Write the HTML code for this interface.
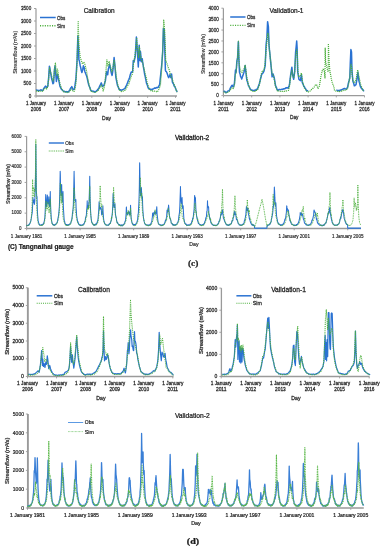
<!DOCTYPE html>
<html><head><meta charset="utf-8"><title>Streamflow</title>
<style>html,body{margin:0;padding:0;background:#fff;}body{width:386px;height:550px;overflow:hidden;}svg{display:block;}</style>
</head><body>
<svg width="386" height="550" viewBox="0 0 386 550">
<rect width="386" height="550" fill="#ffffff"/>
<line x1="36" y1="96" x2="36" y2="8.4" stroke="#9a9a9a" stroke-width="1.2" />
<line x1="34" y1="96" x2="36" y2="96" stroke="#9a9a9a" stroke-width="0.9" />
<text x="31.2" y="97.79" font-size="5.8" text-anchor="end" font-family="'Liberation Sans', Arial, sans-serif" fill="#2a2a2a" stroke="#2a2a2a" stroke-width="0.26" textLength="2.55" lengthAdjust="spacingAndGlyphs" >0</text>
<line x1="34" y1="83.5" x2="36" y2="83.5" stroke="#9a9a9a" stroke-width="0.9" />
<text x="31.2" y="85.29" font-size="5.8" text-anchor="end" font-family="'Liberation Sans', Arial, sans-serif" fill="#2a2a2a" stroke="#2a2a2a" stroke-width="0.26" textLength="7.65" lengthAdjust="spacingAndGlyphs" >500</text>
<line x1="34" y1="71" x2="36" y2="71" stroke="#9a9a9a" stroke-width="0.9" />
<text x="31.2" y="72.79" font-size="5.8" text-anchor="end" font-family="'Liberation Sans', Arial, sans-serif" fill="#2a2a2a" stroke="#2a2a2a" stroke-width="0.26" textLength="10.2" lengthAdjust="spacingAndGlyphs" >1000</text>
<line x1="34" y1="58.5" x2="36" y2="58.5" stroke="#9a9a9a" stroke-width="0.9" />
<text x="31.2" y="60.29" font-size="5.8" text-anchor="end" font-family="'Liberation Sans', Arial, sans-serif" fill="#2a2a2a" stroke="#2a2a2a" stroke-width="0.26" textLength="10.2" lengthAdjust="spacingAndGlyphs" >1500</text>
<line x1="34" y1="46" x2="36" y2="46" stroke="#9a9a9a" stroke-width="0.9" />
<text x="31.2" y="47.79" font-size="5.8" text-anchor="end" font-family="'Liberation Sans', Arial, sans-serif" fill="#2a2a2a" stroke="#2a2a2a" stroke-width="0.26" textLength="10.2" lengthAdjust="spacingAndGlyphs" >2000</text>
<line x1="34" y1="33.5" x2="36" y2="33.5" stroke="#9a9a9a" stroke-width="0.9" />
<text x="31.2" y="35.29" font-size="5.8" text-anchor="end" font-family="'Liberation Sans', Arial, sans-serif" fill="#2a2a2a" stroke="#2a2a2a" stroke-width="0.26" textLength="10.2" lengthAdjust="spacingAndGlyphs" >2500</text>
<line x1="34" y1="21" x2="36" y2="21" stroke="#9a9a9a" stroke-width="0.9" />
<text x="31.2" y="22.79" font-size="5.8" text-anchor="end" font-family="'Liberation Sans', Arial, sans-serif" fill="#2a2a2a" stroke="#2a2a2a" stroke-width="0.26" textLength="10.2" lengthAdjust="spacingAndGlyphs" >3000</text>
<line x1="34" y1="8.5" x2="36" y2="8.5" stroke="#9a9a9a" stroke-width="0.9" />
<text x="31.2" y="10.29" font-size="5.8" text-anchor="end" font-family="'Liberation Sans', Arial, sans-serif" fill="#2a2a2a" stroke="#2a2a2a" stroke-width="0.26" textLength="10.2" lengthAdjust="spacingAndGlyphs" >3500</text>
<line x1="36" y1="96" x2="177" y2="96" stroke="#9a9a9a" stroke-width="1.3" />
<line x1="36" y1="96" x2="36" y2="97.8" stroke="#9a9a9a" stroke-width="0.9" />
<line x1="63.9" y1="96" x2="63.9" y2="97.8" stroke="#9a9a9a" stroke-width="0.9" />
<line x1="91.8" y1="96" x2="91.8" y2="97.8" stroke="#9a9a9a" stroke-width="0.9" />
<line x1="119.7" y1="96" x2="119.7" y2="97.8" stroke="#9a9a9a" stroke-width="0.9" />
<line x1="147.6" y1="96" x2="147.6" y2="97.8" stroke="#9a9a9a" stroke-width="0.9" />
<line x1="175.5" y1="96" x2="175.5" y2="97.8" stroke="#9a9a9a" stroke-width="0.9" />
<text x="36" y="104.8" font-size="5.6" text-anchor="middle" font-family="'Liberation Sans', Arial, sans-serif" fill="#2a2a2a" stroke="#2a2a2a" stroke-width="0.26" textLength="20" lengthAdjust="spacingAndGlyphs" >1 January</text>
<text x="36" y="111.3" font-size="5.6" text-anchor="middle" font-family="'Liberation Sans', Arial, sans-serif" fill="#2a2a2a" stroke="#2a2a2a" stroke-width="0.26" textLength="10.4" lengthAdjust="spacingAndGlyphs" >2006</text>
<text x="63.9" y="104.8" font-size="5.6" text-anchor="middle" font-family="'Liberation Sans', Arial, sans-serif" fill="#2a2a2a" stroke="#2a2a2a" stroke-width="0.26" textLength="20" lengthAdjust="spacingAndGlyphs" >1 January</text>
<text x="63.9" y="111.3" font-size="5.6" text-anchor="middle" font-family="'Liberation Sans', Arial, sans-serif" fill="#2a2a2a" stroke="#2a2a2a" stroke-width="0.26" textLength="10.4" lengthAdjust="spacingAndGlyphs" >2007</text>
<text x="91.8" y="104.8" font-size="5.6" text-anchor="middle" font-family="'Liberation Sans', Arial, sans-serif" fill="#2a2a2a" stroke="#2a2a2a" stroke-width="0.26" textLength="20" lengthAdjust="spacingAndGlyphs" >1 January</text>
<text x="91.8" y="111.3" font-size="5.6" text-anchor="middle" font-family="'Liberation Sans', Arial, sans-serif" fill="#2a2a2a" stroke="#2a2a2a" stroke-width="0.26" textLength="10.4" lengthAdjust="spacingAndGlyphs" >2008</text>
<text x="119.7" y="104.8" font-size="5.6" text-anchor="middle" font-family="'Liberation Sans', Arial, sans-serif" fill="#2a2a2a" stroke="#2a2a2a" stroke-width="0.26" textLength="20" lengthAdjust="spacingAndGlyphs" >1 January</text>
<text x="119.7" y="111.3" font-size="5.6" text-anchor="middle" font-family="'Liberation Sans', Arial, sans-serif" fill="#2a2a2a" stroke="#2a2a2a" stroke-width="0.26" textLength="10.4" lengthAdjust="spacingAndGlyphs" >2009</text>
<text x="147.6" y="104.8" font-size="5.6" text-anchor="middle" font-family="'Liberation Sans', Arial, sans-serif" fill="#2a2a2a" stroke="#2a2a2a" stroke-width="0.26" textLength="20" lengthAdjust="spacingAndGlyphs" >1 January</text>
<text x="147.6" y="111.3" font-size="5.6" text-anchor="middle" font-family="'Liberation Sans', Arial, sans-serif" fill="#2a2a2a" stroke="#2a2a2a" stroke-width="0.26" textLength="10.4" lengthAdjust="spacingAndGlyphs" >2010</text>
<text x="175.5" y="104.8" font-size="5.6" text-anchor="middle" font-family="'Liberation Sans', Arial, sans-serif" fill="#2a2a2a" stroke="#2a2a2a" stroke-width="0.26" textLength="20" lengthAdjust="spacingAndGlyphs" >1 January</text>
<text x="175.5" y="111.3" font-size="5.6" text-anchor="middle" font-family="'Liberation Sans', Arial, sans-serif" fill="#2a2a2a" stroke="#2a2a2a" stroke-width="0.26" textLength="10.4" lengthAdjust="spacingAndGlyphs" >2011</text>
<text x="106.5" y="119.9" font-size="5.9" text-anchor="middle" font-family="'Liberation Sans', Arial, sans-serif" fill="#2a2a2a" stroke="#2a2a2a" stroke-width="0.26" textLength="9" lengthAdjust="spacingAndGlyphs" >Day</text>
<text x="99.2" y="12.8" font-size="7" text-anchor="middle" font-family="'Liberation Sans', Arial, sans-serif" fill="#1a1a1a" stroke="#1a1a1a" stroke-width="0.24" textLength="31" lengthAdjust="spacingAndGlyphs" >Calibration</text>
<text x="15.3" y="52.2" font-size="5.6" text-anchor="middle" font-family="'Liberation Sans', Arial, sans-serif" fill="#2a2a2a" stroke="#2a2a2a" stroke-width="0.14" textLength="43.2" lengthAdjust="spacingAndGlyphs" transform="rotate(-90 15.3 52.2)" dy="2">Streamflow (m³/s)</text>
<polyline points="36,90 36.41,89.9 36.83,90.38 37.24,90.44 37.66,90.27 38.07,90.5 38.49,90.57 38.9,90.7 39.4,90.55 39.9,90.39 40.4,90 40.88,89.86 41.36,89.91 41.84,90.42 42.32,90.28 42.8,90.4 43.3,89.61 43.8,88.24 44.3,87.6 44.7,87.06 45.1,86.75 45.5,86.1 45.9,86.42 46.3,87.39 46.7,87.6 47.25,87.12 47.8,86.1 48.2,81.8 48.6,78.3 49.4,66.3 49.8,67.78 50.2,70.5 50.75,73.7 51.3,76.8 51.7,78.96 52.1,80.14 52.5,81.73 52.9,83.7 53.6,83 54.4,70.5 55,65.9 55.8,74.4 56.4,81.4 57.1,75.2 57.7,74.4 58.3,78.3 58.7,80.18 59.1,81.8 59.5,83.93 59.9,86.1 60.4,87.09 60.9,88.16 61.4,89.2 61.86,89.51 62.32,89.98 62.78,90.43 63.24,91.02 63.7,91.5 64.14,91.44 64.57,91.34 65.01,91.77 65.45,91.67 65.88,91.75 66.32,91.57 66.75,91.99 67.19,91.96 67.63,91.65 68.06,91.79 68.5,91.9 68.94,91.25 69.38,90.49 69.82,89.86 70.26,88.81 70.7,88.1 71.25,87.56 71.8,86.6 72.2,87.71 72.6,88.48 73,89.6 73.47,89.42 73.93,89.35 74.4,88.9 74.9,85.91 75.4,82.44 75.9,79.2 76.5,69.62 77.1,59.8 77.5,47.24 77.9,35.9 78.5,47.8 78.9,59.8 79.4,61 80.1,65.2 80.65,67.37 81.2,70.2 81.9,72.5 82.7,69.7 83.4,65.7 84.1,67.2 84.5,69.84 84.9,71.7 85.5,73.1 86.1,74.7 86.6,75.84 87.1,77.7 87.6,79.98 88.1,82.34 88.6,84.4 89.06,85.72 89.52,86.72 89.98,87.96 90.44,89.2 90.9,90.4 91.43,90.81 91.97,90.94 92.5,91.2 92.92,91.26 93.33,91.43 93.75,91.33 94.17,91.45 94.58,91.88 95,91.9 95.44,91.83 95.88,91.35 96.32,90.95 96.76,90.53 97.2,90.4 97.7,89.63 98.2,89.15 98.7,88.1 99.2,87.28 99.7,86.13 100.2,85.1 100.75,84.28 101.3,82.9 101.85,84.55 102.4,86.6 102.9,86.11 103.4,85.92 103.9,85.1 104.4,83.7 104.9,82.13 105.4,80.7 106,75.95 106.6,71.7 107.15,73.26 107.7,74.7 108.4,68.7 109,67.09 109.6,64.3 110.15,66.61 110.7,70.2 111.17,72.29 111.63,74.05 112.1,75.4 112.65,71.8 113.2,67.2 113.65,62.66 114.1,57.5 114.8,64.3 115.35,71.4 115.9,77.7 116.4,80.18 116.9,82.68 117.4,85.1 117.9,86.32 118.4,87.35 118.9,88.9 119.34,89.41 119.78,89.54 120.22,89.64 120.66,90.1 121.1,90.4 121.53,90.18 121.97,89.9 122.4,89.68 122.83,89.58 123.27,89.41 123.7,89.2 124.13,88.9 124.57,88.43 125,88.5 125.42,87.34 125.84,86.3 126.27,85.59 126.69,84.82 127.11,83.79 127.53,82.82 127.96,81.86 128.38,80.36 128.8,79.6 129.23,78.68 129.67,77.25 130.1,75.34 130.53,73.97 130.97,72.68 131.4,72 132,72.32 132.6,72 133.3,60.6 134.1,61.8 134.65,58.97 135.2,56.8 135.6,49.73 136,43.83 136.4,37.1 136.85,43.55 137.3,50.4 137.8,58.09 138.3,66.9 138.75,55.66 139.2,45.3 139.6,52.99 140,60.6 140.5,51.7 140.9,56.32 141.3,61.8 141.75,59.95 142.2,58.7 142.6,61.71 143,64.11 143.4,66.9 143.83,69.24 144.27,72 144.7,74.6 145.17,76.32 145.65,78.94 146.12,81.2 146.6,83.5 147.07,84.52 147.55,85.73 148.03,87.51 148.5,88.5 148.96,88.69 149.41,88.7 149.87,89.12 150.33,89.42 150.79,89.16 151.24,89.35 151.7,89.8 152.1,89.36 152.5,89.44 152.9,88.88 153.3,88.95 153.7,88.69 154.1,88.37 154.5,88.1 154.91,87.85 155.32,88.24 155.73,88.05 156.14,87.8 156.56,87.54 156.97,87.73 157.38,87.49 157.79,87.53 158.2,87.4 158.7,86.28 159.2,85.49 159.7,84.4 160.2,79.13 160.7,74.7 161.1,70.47 161.5,67.37 161.9,62.8 162.7,52.3 163.4,28.4 164.2,29.2 164.9,52.3 165.4,70.2 165.9,71.44 166.4,71.7 167,72.97 167.6,74.7 168.15,76.59 168.7,77.7 169.1,76.5 169.5,76.19 169.9,74.7 170.4,76.47 170.9,77.7 171.6,74 172,78.01 172.4,82.2 172.9,82.97 173.4,83.75 173.9,85.1 174.4,86.36 174.9,86.8 175.4,88.1 175.85,89.23 176.3,90.25 176.75,90.99 177.2,91.9" fill="none" stroke="#2a72d2" stroke-width="1.5" stroke-linejoin="round"/>
<polyline points="36,90.8 36.58,90.92 37.16,91.11 37.74,91.43 38.32,91.34 38.9,91.5 39.4,91.34 39.9,91.21 40.4,91 41,90.89 41.6,91.11 42.2,91.21 42.8,91.2 43.3,90.62 43.8,89.51 44.3,89 44.9,88.38 45.5,88 46.1,88.25 46.7,89 47.25,87.95 47.8,86.5 48.6,80 49.1,73.98 49.6,67.5 50.4,72 50.95,72.95 51.5,75 52,77.51 52.5,79.46 53,81 53.8,78 54.6,68 55.4,63.2 56.2,72 56.8,76 57.5,69 58.2,73 59,79 59.65,82.13 60.3,85 60.8,86.58 61.3,87.79 61.8,89.5 62.35,89.92 62.9,90.86 63.45,91.31 64,92.2 64.5,92.09 65,92.15 65.5,92.09 66,92.32 66.5,92.34 67,92.55 67.5,92.44 68,92.53 68.5,92.5 69.05,91.87 69.6,91.33 70.15,90.6 70.7,90 71.25,89.38 71.8,89 72.4,90.51 73,91.5 73.7,91.49 74.4,91 74.9,88.87 75.4,86.48 75.9,84 76.5,72.77 77.1,62 77.65,41.5 78.2,21.7 78.9,44.9 79.6,52 80.4,58.3 81,59.53 81.6,61.3 82.5,64 83.4,62 83.9,62.21 84.4,63.88 84.9,64.3 85.4,66.14 85.9,68.68 86.4,70.2 86.9,73.06 87.4,76.7 87.9,79.2 88.4,81.97 88.9,83.75 89.4,86.6 89.9,87.92 90.4,89.83 90.9,91.1 91.43,91.39 91.97,91.93 92.5,92 93,92.05 93.5,92.01 94,92.36 94.5,92.52 95,92.5 95.55,92.15 96.1,91.81 96.65,91.67 97.2,91.5 97.7,91.07 98.2,90.3 98.7,89.5 99.2,88.44 99.7,87.67 100.2,87 100.7,86.09 101.2,85.42 101.7,85.1 102.2,87.29 102.7,88.91 103.2,91.1 103.85,88.59 104.5,86 105.05,80.95 105.6,76 106.25,67.5 106.9,59.8 107.4,63.2 107.9,66 108.55,63.17 109.2,61.3 109.85,64.34 110.5,67 111.15,69 111.8,72 112.4,69.9 113,68 113.55,63.53 114.1,59.8 115,66 115.6,70.7 116.2,76 116.73,79.46 117.27,82.26 117.8,85 118.33,86.53 118.87,88.57 119.4,90 119.97,90.35 120.53,90.95 121.1,91.5 121.66,91.53 122.21,91.28 122.77,90.87 123.33,91.17 123.89,90.64 124.44,90.52 125,90.5 125.54,89.72 126.09,88.54 126.63,87.59 127.17,86.5 127.71,85.57 128.26,84.99 128.8,84 129.32,82.18 129.84,80.89 130.36,79.08 130.88,77.55 131.4,76 132,75.03 132.6,73 133.5,64 134,60.98 134.5,58 135,55.1 135.5,52 136.1,45.33 136.7,37.7 137.5,48 138,52.59 138.5,58 139.4,47 139.9,50.55 140.4,55 140.95,58.03 141.5,60 142,61.41 142.5,62 143.15,64.67 143.8,68 144.37,69.8 144.93,72.7 145.5,74.6 146,77.29 146.5,78.75 147,81.68 147.5,83.5 148,85.28 148.5,86.57 149,87.95 149.5,89.5 150.05,89.66 150.6,90.01 151.15,90.86 151.7,91 152.26,90.89 152.82,91.14 153.38,90.94 153.94,91.24 154.5,91.1 155,91.28 155.5,91.27 156,91.34 156.5,91.74 157,91.56 157.5,91.9 158,90.79 158.5,89.98 159,89.18 159.5,88 160,86.28 160.5,84.4 161,77.98 161.5,72 162.05,61.54 162.6,50 163.15,34.72 163.7,20.2 164.6,30 165.2,45 165.7,61.3 166.2,61.67 166.7,63 167.2,64.3 167.9,66.43 168.6,68.7 169.1,69.63 169.6,71.29 170.1,73.2 170.6,74.55 171.1,76.28 171.6,77.7 172.18,78.84 172.75,80.57 173.32,82.53 173.9,83.7 174.45,85.53 175,86.76 175.55,88.24 176.1,89.6 176.65,90.99 177.2,92.3" fill="none" stroke="#4caf3c" stroke-width="1.2" stroke-linejoin="round" stroke-dasharray="1.1 0.9"/>
<line x1="40" y1="17.5" x2="55.7" y2="17.5" stroke="#2a72d2" stroke-width="1.5" />
<line x1="40" y1="25.75" x2="55.7" y2="25.75" stroke="#4caf3c" stroke-width="1.3" stroke-dasharray="1.1 1.3"/>
<text x="57" y="19.62" font-size="5.9" text-anchor="start" font-family="'Liberation Sans', Arial, sans-serif" fill="#2a2a2a" stroke="#2a2a2a" stroke-width="0.26" textLength="8.3" lengthAdjust="spacingAndGlyphs" >Obs</text>
<text x="57" y="27.87" font-size="5.9" text-anchor="start" font-family="'Liberation Sans', Arial, sans-serif" fill="#2a2a2a" stroke="#2a2a2a" stroke-width="0.26" textLength="8" lengthAdjust="spacingAndGlyphs" >Sim</text>
<line x1="223.4" y1="95.6" x2="223.4" y2="8.2" stroke="#9a9a9a" stroke-width="1.2" />
<line x1="221.4" y1="95.6" x2="223.4" y2="95.6" stroke="#9a9a9a" stroke-width="0.9" />
<text x="218.8" y="97.39" font-size="5.8" text-anchor="end" font-family="'Liberation Sans', Arial, sans-serif" fill="#2a2a2a" stroke="#2a2a2a" stroke-width="0.26" textLength="2.58" lengthAdjust="spacingAndGlyphs" >0</text>
<line x1="221.4" y1="84.67" x2="223.4" y2="84.67" stroke="#9a9a9a" stroke-width="0.9" />
<text x="218.8" y="86.46" font-size="5.8" text-anchor="end" font-family="'Liberation Sans', Arial, sans-serif" fill="#2a2a2a" stroke="#2a2a2a" stroke-width="0.26" textLength="7.73" lengthAdjust="spacingAndGlyphs" >500</text>
<line x1="221.4" y1="73.75" x2="223.4" y2="73.75" stroke="#9a9a9a" stroke-width="0.9" />
<text x="218.8" y="75.54" font-size="5.8" text-anchor="end" font-family="'Liberation Sans', Arial, sans-serif" fill="#2a2a2a" stroke="#2a2a2a" stroke-width="0.26" textLength="10.3" lengthAdjust="spacingAndGlyphs" >1000</text>
<line x1="221.4" y1="62.82" x2="223.4" y2="62.82" stroke="#9a9a9a" stroke-width="0.9" />
<text x="218.8" y="64.61" font-size="5.8" text-anchor="end" font-family="'Liberation Sans', Arial, sans-serif" fill="#2a2a2a" stroke="#2a2a2a" stroke-width="0.26" textLength="10.3" lengthAdjust="spacingAndGlyphs" >1500</text>
<line x1="221.4" y1="51.9" x2="223.4" y2="51.9" stroke="#9a9a9a" stroke-width="0.9" />
<text x="218.8" y="53.69" font-size="5.8" text-anchor="end" font-family="'Liberation Sans', Arial, sans-serif" fill="#2a2a2a" stroke="#2a2a2a" stroke-width="0.26" textLength="10.3" lengthAdjust="spacingAndGlyphs" >2000</text>
<line x1="221.4" y1="40.97" x2="223.4" y2="40.97" stroke="#9a9a9a" stroke-width="0.9" />
<text x="218.8" y="42.76" font-size="5.8" text-anchor="end" font-family="'Liberation Sans', Arial, sans-serif" fill="#2a2a2a" stroke="#2a2a2a" stroke-width="0.26" textLength="10.3" lengthAdjust="spacingAndGlyphs" >2500</text>
<line x1="221.4" y1="30.05" x2="223.4" y2="30.05" stroke="#9a9a9a" stroke-width="0.9" />
<text x="218.8" y="31.84" font-size="5.8" text-anchor="end" font-family="'Liberation Sans', Arial, sans-serif" fill="#2a2a2a" stroke="#2a2a2a" stroke-width="0.26" textLength="10.3" lengthAdjust="spacingAndGlyphs" >3000</text>
<line x1="221.4" y1="19.12" x2="223.4" y2="19.12" stroke="#9a9a9a" stroke-width="0.9" />
<text x="218.8" y="20.91" font-size="5.8" text-anchor="end" font-family="'Liberation Sans', Arial, sans-serif" fill="#2a2a2a" stroke="#2a2a2a" stroke-width="0.26" textLength="10.3" lengthAdjust="spacingAndGlyphs" >3500</text>
<line x1="221.4" y1="8.2" x2="223.4" y2="8.2" stroke="#9a9a9a" stroke-width="0.9" />
<text x="218.8" y="9.99" font-size="5.8" text-anchor="end" font-family="'Liberation Sans', Arial, sans-serif" fill="#2a2a2a" stroke="#2a2a2a" stroke-width="0.26" textLength="10.3" lengthAdjust="spacingAndGlyphs" >4000</text>
<line x1="223.4" y1="95.6" x2="364.5" y2="95.6" stroke="#9a9a9a" stroke-width="1.3" />
<line x1="223.5" y1="95.6" x2="223.5" y2="97.4" stroke="#9a9a9a" stroke-width="0.9" />
<line x1="251.7" y1="95.6" x2="251.7" y2="97.4" stroke="#9a9a9a" stroke-width="0.9" />
<line x1="279.9" y1="95.6" x2="279.9" y2="97.4" stroke="#9a9a9a" stroke-width="0.9" />
<line x1="308.1" y1="95.6" x2="308.1" y2="97.4" stroke="#9a9a9a" stroke-width="0.9" />
<line x1="336.3" y1="95.6" x2="336.3" y2="97.4" stroke="#9a9a9a" stroke-width="0.9" />
<line x1="364.5" y1="95.6" x2="364.5" y2="97.4" stroke="#9a9a9a" stroke-width="0.9" />
<text x="223.5" y="104.5" font-size="5.6" text-anchor="middle" font-family="'Liberation Sans', Arial, sans-serif" fill="#2a2a2a" stroke="#2a2a2a" stroke-width="0.26" textLength="20" lengthAdjust="spacingAndGlyphs" >1 January</text>
<text x="223.5" y="110.8" font-size="5.6" text-anchor="middle" font-family="'Liberation Sans', Arial, sans-serif" fill="#2a2a2a" stroke="#2a2a2a" stroke-width="0.26" textLength="10.4" lengthAdjust="spacingAndGlyphs" >2011</text>
<text x="251.7" y="104.5" font-size="5.6" text-anchor="middle" font-family="'Liberation Sans', Arial, sans-serif" fill="#2a2a2a" stroke="#2a2a2a" stroke-width="0.26" textLength="20" lengthAdjust="spacingAndGlyphs" >1 January</text>
<text x="251.7" y="110.8" font-size="5.6" text-anchor="middle" font-family="'Liberation Sans', Arial, sans-serif" fill="#2a2a2a" stroke="#2a2a2a" stroke-width="0.26" textLength="10.4" lengthAdjust="spacingAndGlyphs" >2012</text>
<text x="279.9" y="104.5" font-size="5.6" text-anchor="middle" font-family="'Liberation Sans', Arial, sans-serif" fill="#2a2a2a" stroke="#2a2a2a" stroke-width="0.26" textLength="20" lengthAdjust="spacingAndGlyphs" >1 January</text>
<text x="279.9" y="110.8" font-size="5.6" text-anchor="middle" font-family="'Liberation Sans', Arial, sans-serif" fill="#2a2a2a" stroke="#2a2a2a" stroke-width="0.26" textLength="10.4" lengthAdjust="spacingAndGlyphs" >2013</text>
<text x="308.1" y="104.5" font-size="5.6" text-anchor="middle" font-family="'Liberation Sans', Arial, sans-serif" fill="#2a2a2a" stroke="#2a2a2a" stroke-width="0.26" textLength="20" lengthAdjust="spacingAndGlyphs" >1 January</text>
<text x="308.1" y="110.8" font-size="5.6" text-anchor="middle" font-family="'Liberation Sans', Arial, sans-serif" fill="#2a2a2a" stroke="#2a2a2a" stroke-width="0.26" textLength="10.4" lengthAdjust="spacingAndGlyphs" >2014</text>
<text x="336.3" y="104.5" font-size="5.6" text-anchor="middle" font-family="'Liberation Sans', Arial, sans-serif" fill="#2a2a2a" stroke="#2a2a2a" stroke-width="0.26" textLength="20" lengthAdjust="spacingAndGlyphs" >1 January</text>
<text x="336.3" y="110.8" font-size="5.6" text-anchor="middle" font-family="'Liberation Sans', Arial, sans-serif" fill="#2a2a2a" stroke="#2a2a2a" stroke-width="0.26" textLength="10.4" lengthAdjust="spacingAndGlyphs" >2015</text>
<text x="364.5" y="104.5" font-size="5.6" text-anchor="middle" font-family="'Liberation Sans', Arial, sans-serif" fill="#2a2a2a" stroke="#2a2a2a" stroke-width="0.26" textLength="20" lengthAdjust="spacingAndGlyphs" >1 January</text>
<text x="364.5" y="110.8" font-size="5.6" text-anchor="middle" font-family="'Liberation Sans', Arial, sans-serif" fill="#2a2a2a" stroke="#2a2a2a" stroke-width="0.26" textLength="10.4" lengthAdjust="spacingAndGlyphs" >2016</text>
<text x="294.2" y="119.2" font-size="5.9" text-anchor="middle" font-family="'Liberation Sans', Arial, sans-serif" fill="#2a2a2a" stroke="#2a2a2a" stroke-width="0.26" textLength="8.6" lengthAdjust="spacingAndGlyphs" >Day</text>
<text x="286.5" y="12.8" font-size="7" text-anchor="middle" font-family="'Liberation Sans', Arial, sans-serif" fill="#1a1a1a" stroke="#1a1a1a" stroke-width="0.24" textLength="34" lengthAdjust="spacingAndGlyphs" >Validation-1</text>
<text x="203.4" y="54" font-size="5.4" text-anchor="middle" font-family="'Liberation Sans', Arial, sans-serif" fill="#2a2a2a" stroke="#2a2a2a" stroke-width="0.14" textLength="40" lengthAdjust="spacingAndGlyphs" transform="rotate(-90 203.4 54)" dy="2">Streamflow (m³/s)</text>
<polyline points="223.7,90.8 224.14,91.36 224.58,91.69 225.02,91.62 225.46,91.98 225.9,92.5 226.32,92.37 226.75,92.06 227.18,91.75 227.6,91.4 228.03,91.03 228.45,90.9 228.88,90.63 229.3,90.3 229.73,89.49 230.15,88.4 230.57,87.71 231,86.9 231.55,85.98 232.1,85.2 232.5,85.92 232.9,86.67 233.3,86.9 233.85,85.52 234.4,83.5 234.95,76.8 235.5,70 236.1,72.2 236.5,66.48 236.9,60.9 237.6,57.6 238,49.4 238.4,41.8 238.9,59.8 239.5,72.2 240.05,73.92 240.6,76.7 241.15,77.37 241.7,79 242.1,77.83 242.5,76.54 242.9,75.6 243.45,73.76 244,72.2 244.55,69.31 245.1,65.4 245.5,68.83 245.9,72.2 246.35,76.22 246.8,80.1 247.23,81.27 247.65,82.52 248.07,84.17 248.5,85.7 248.96,86.26 249.42,87.31 249.88,88.4 250.34,89 250.8,89.7 251.23,89.66 251.65,90.16 252.07,90.23 252.5,90.2 252.9,90.36 253.3,90.49 253.7,90.45 254.1,90.51 254.5,90.4 254.93,90.11 255.36,90.22 255.79,90 256.21,89.36 256.64,89.47 257.07,89.23 257.5,88.9 257.95,87.58 258.4,86.32 258.85,84.99 259.3,83.7 259.85,81.82 260.4,79.2 260.8,77.7 261.2,76.56 261.6,74.7 262.15,73.78 262.7,73.2 263.2,72.67 263.7,71.71 264.2,70.2 264.7,67.9 265.2,65.7 265.65,55.39 266.1,44.9 266.9,37.4 267.6,21.7 268.4,26.9 269,44.9 269.45,49.9 269.9,53.8 270.4,59.34 270.9,64.3 271.3,68.48 271.7,72.36 272.1,76.9 272.6,75.26 273.1,74 273.65,76.07 274.2,77.7 274.8,81.11 275.4,85.1 275.84,86.44 276.28,87.07 276.72,88.52 277.16,89.24 277.6,90.4 278.07,90.34 278.53,89.91 279,89.5 279.4,89.52 279.8,89.55 280.2,89.64 280.6,89.63 281,89.6 281.43,89.4 281.86,89.24 282.29,89.31 282.71,89.44 283.14,89.17 283.57,88.76 284,88.9 284.44,88.86 284.88,88.59 285.32,88.48 285.76,87.83 286.2,87.8 286.64,88.01 287.08,87.65 287.52,88.07 287.96,87.9 288.4,88.1 288.8,86.45 289.2,85.44 289.6,83.7 290.15,78.82 290.7,74.7 291.3,70.98 291.9,67.2 292.6,74.7 293.15,77.32 293.7,79.2 294.2,75.17 294.7,71.7 295.15,61.62 295.6,52.3 296.15,47.19 296.7,41.1 297.1,47.8 297.7,71.7 298.3,75.36 298.9,79.2 299.4,79.9 299.9,79.77 300.4,80.7 300.9,77.56 301.4,74.7 301.8,78.13 302.2,82.2 302.68,83.44 303.15,84.09 303.62,85.82 304.1,86.6 304.56,87.06 305.02,88.26 305.48,88.61 305.94,89.51 306.4,90.4 306.8,90.73 307.2,90.58 307.6,90.77 308,91.1" fill="none" stroke="#2a72d2" stroke-width="1.5" stroke-linejoin="round"/>
<polyline points="336.3,90.2 336.7,90.15 337.1,90.39 337.5,90.39 337.9,90.6 338.3,90.69 338.7,90.5 339.1,90.8 339.57,90.36 340.03,90.57 340.5,90.08 340.97,89.86 341.43,90.06 341.9,89.6 342.34,89.36 342.78,89.35 343.22,88.93 343.66,88.8 344.1,88.5 344.56,88.42 345.02,88.82 345.48,89.07 345.94,88.99 346.4,89.1 346.83,88.48 347.27,87.67 347.7,86.8 348.15,84.23 348.6,82.3 349.2,80.29 349.8,77.8 350.3,63.2 350.9,49.6 351.5,51.9 352,71.1 352.45,76.25 352.9,81.2 353.37,82.54 353.83,83.85 354.3,85.7 354.73,85.68 355.15,85.13 355.57,85.03 356,84.6 356.55,81.53 357.1,77.8 357.9,72.2 358.35,76.38 358.8,80.1 359.23,82.13 359.65,83.37 360.07,85.34 360.5,86.8 360.93,87.34 361.35,88.21 361.77,88.75 362.2,89.1 362.62,89.43 363.05,90.01 363.47,90.61 363.9,91.3" fill="none" stroke="#2a72d2" stroke-width="1.5" stroke-linejoin="round"/>
<polyline points="223.7,91.8 224.25,92.09 224.8,92.47 225.35,92.77 225.9,93 226.47,92.65 227.03,92.39 227.6,92.4 228.17,91.98 228.73,91.56 229.3,91.3 229.87,90.69 230.43,89.87 231,89 231.55,88.31 232.1,87.5 232.7,88.04 233.3,88.5 233.85,87.1 234.4,85.5 234.95,79.42 235.5,74 236.1,73 236.9,63 237.6,58 238.4,41.2 238.9,56 239.5,66 240.05,68.42 240.6,71 241.15,71.17 241.7,72.2 242.3,72.11 242.9,71 243.45,69.43 244,69 244.55,67.61 245.1,65.4 245.9,70 246.8,78 247.37,79.95 247.93,82.82 248.5,85 249.07,86.27 249.65,87.69 250.23,89.32 250.8,90.5 251.37,90.5 251.93,90.75 252.5,91.2 253,91.45 253.5,91.3 254,91.16 254.5,91.4 255,91.4 255.5,91.15 256,90.51 256.5,90.43 257,90.05 257.5,90 258.1,88.22 258.7,86.75 259.3,85 259.85,82.22 260.4,80 261,76.46 261.6,72.5 262.15,71.7 262.7,72 263.2,70.58 263.7,70.41 264.2,69 264.7,65.37 265.2,62 266.1,50 266.9,42 267.4,37.34 267.9,32.9 268.6,37 269.2,47 269.9,55 270.4,59.12 270.9,63 271.5,68.47 272.1,74 272.6,74.12 273.1,74.5 273.65,76.26 274.2,79 274.8,82.69 275.4,86 275.95,87.64 276.5,88.97 277.05,90.14 277.6,91.4 278.3,91.13 279,91 279.5,91.06 280,91.34 280.5,91.46 281,91.5 281.5,91.32 282,91.38 282.5,91.44 283,91.51 283.5,91.64 284,91.5 284.55,91.38 285.1,91.03 285.65,91.28 286.2,91 286.75,90.84 287.3,90.76 287.85,90.49 288.4,90.5 289,88.21 289.6,86 290.15,80.9 290.7,76 291.3,73.33 291.9,70 292.6,75 293.15,76.08 293.7,78 294.2,75.06 294.7,72 295.6,58 296.15,53.33 296.7,49.5 297.3,55 297.9,72 298.4,74.72 298.9,77 299.4,76.18 299.9,76.09 300.4,76 300.9,74.32 301.4,73 302.2,80 302.83,82.61 303.47,84.68 304.1,87.5 304.68,88.35 305.25,89.09 305.82,90.01 306.4,91 306.93,91.32 307.47,91.88 308,92 308.57,91.86 309.13,91.94 309.7,91.6 310.3,90.74 310.9,90.42 311.5,89.5 312.02,88.97 312.55,88.42 313.08,88.3 313.6,87.7 314.3,86.87 315,85.5 315.53,84.88 316.07,84.8 316.6,84.7 317.3,86.78 318,88.5 318.5,87.57 319,86.67 319.5,86 320,82.27 320.5,78.9 321,76 321.7,73.14 322.4,70 322.95,69.88 323.5,68.5 324,70.9 324.5,72 325,78 325.2,48 325.6,62 326.5,66 327,68 327.5,70 328.2,72 328.4,43.7 328.8,55 329.3,64 330,72 330.5,74.13 331,77.15 331.5,80 332.1,82 332.7,83.76 333.3,85.35 333.9,87 334.5,90.5 335.1,90.6 335.7,90.98 336.3,91.2 336.86,91.25 337.42,91.38 337.98,91.27 338.54,91.65 339.1,91.5 339.66,91.55 340.22,91.06 340.78,90.98 341.34,91.12 341.9,90.8 342.45,90.49 343,90.63 343.55,90.21 344.1,90 344.68,90.1 345.25,90.11 345.82,89.85 346.4,90 347.05,88.88 347.7,88 348.6,84 349.2,80.78 349.8,78 350.3,70 350.9,64.3 351.5,66 352,74 352.9,80 353.6,81.66 354.3,83 354.87,82.16 355.43,80.67 356,80 356.55,76.91 357.1,73 357.7,69.9 358.25,72.85 358.8,76 359.37,78.41 359.93,81.28 360.5,84 361.07,85.84 361.63,87.04 362.2,88.5 362.77,89.6 363.33,90.78 363.9,91.6" fill="none" stroke="#4caf3c" stroke-width="1.2" stroke-linejoin="round" stroke-dasharray="1.1 0.9"/>
<line x1="230.2" y1="17" x2="245.5" y2="17" stroke="#2a72d2" stroke-width="1.5" />
<line x1="230.2" y1="25.3" x2="245.5" y2="25.3" stroke="#4caf3c" stroke-width="1.3" stroke-dasharray="1.1 1.3"/>
<text x="247" y="19.12" font-size="5.9" text-anchor="start" font-family="'Liberation Sans', Arial, sans-serif" fill="#2a2a2a" stroke="#2a2a2a" stroke-width="0.26" textLength="8.4" lengthAdjust="spacingAndGlyphs" >Obs</text>
<text x="247" y="27.42" font-size="5.9" text-anchor="start" font-family="'Liberation Sans', Arial, sans-serif" fill="#2a2a2a" stroke="#2a2a2a" stroke-width="0.26" textLength="8" lengthAdjust="spacingAndGlyphs" >Sim</text>
<line x1="26.6" y1="228.5" x2="26.6" y2="136.3" stroke="#9a9a9a" stroke-width="1.2" />
<line x1="24.6" y1="228.5" x2="26.6" y2="228.5" stroke="#9a9a9a" stroke-width="0.9" />
<text x="21.4" y="229.72" font-size="5.6" text-anchor="end" font-family="'Liberation Sans', Arial, sans-serif" fill="#2a2a2a" stroke="#2a2a2a" stroke-width="0.2" textLength="2.5" lengthAdjust="spacingAndGlyphs" >0</text>
<line x1="24.6" y1="213.15" x2="26.6" y2="213.15" stroke="#9a9a9a" stroke-width="0.9" />
<text x="21.4" y="214.37" font-size="5.6" text-anchor="end" font-family="'Liberation Sans', Arial, sans-serif" fill="#2a2a2a" stroke="#2a2a2a" stroke-width="0.2" textLength="10" lengthAdjust="spacingAndGlyphs" >1000</text>
<line x1="24.6" y1="197.8" x2="26.6" y2="197.8" stroke="#9a9a9a" stroke-width="0.9" />
<text x="21.4" y="199.02" font-size="5.6" text-anchor="end" font-family="'Liberation Sans', Arial, sans-serif" fill="#2a2a2a" stroke="#2a2a2a" stroke-width="0.2" textLength="10" lengthAdjust="spacingAndGlyphs" >2000</text>
<line x1="24.6" y1="182.45" x2="26.6" y2="182.45" stroke="#9a9a9a" stroke-width="0.9" />
<text x="21.4" y="183.67" font-size="5.6" text-anchor="end" font-family="'Liberation Sans', Arial, sans-serif" fill="#2a2a2a" stroke="#2a2a2a" stroke-width="0.2" textLength="10" lengthAdjust="spacingAndGlyphs" >3000</text>
<line x1="24.6" y1="167.1" x2="26.6" y2="167.1" stroke="#9a9a9a" stroke-width="0.9" />
<text x="21.4" y="168.32" font-size="5.6" text-anchor="end" font-family="'Liberation Sans', Arial, sans-serif" fill="#2a2a2a" stroke="#2a2a2a" stroke-width="0.2" textLength="10" lengthAdjust="spacingAndGlyphs" >4000</text>
<line x1="24.6" y1="151.75" x2="26.6" y2="151.75" stroke="#9a9a9a" stroke-width="0.9" />
<text x="21.4" y="152.97" font-size="5.6" text-anchor="end" font-family="'Liberation Sans', Arial, sans-serif" fill="#2a2a2a" stroke="#2a2a2a" stroke-width="0.2" textLength="10" lengthAdjust="spacingAndGlyphs" >5000</text>
<line x1="24.6" y1="136.4" x2="26.6" y2="136.4" stroke="#9a9a9a" stroke-width="0.9" />
<text x="21.4" y="137.62" font-size="5.6" text-anchor="end" font-family="'Liberation Sans', Arial, sans-serif" fill="#2a2a2a" stroke="#2a2a2a" stroke-width="0.2" textLength="10" lengthAdjust="spacingAndGlyphs" >6000</text>
<line x1="26.6" y1="228.5" x2="361" y2="228.5" stroke="#9a9a9a" stroke-width="1.3" />
<line x1="26.6" y1="228.5" x2="26.6" y2="230.3" stroke="#9a9a9a" stroke-width="0.9" />
<line x1="80.12" y1="228.5" x2="80.12" y2="230.3" stroke="#9a9a9a" stroke-width="0.9" />
<line x1="133.64" y1="228.5" x2="133.64" y2="230.3" stroke="#9a9a9a" stroke-width="0.9" />
<line x1="187.16" y1="228.5" x2="187.16" y2="230.3" stroke="#9a9a9a" stroke-width="0.9" />
<line x1="240.68" y1="228.5" x2="240.68" y2="230.3" stroke="#9a9a9a" stroke-width="0.9" />
<line x1="294.2" y1="228.5" x2="294.2" y2="230.3" stroke="#9a9a9a" stroke-width="0.9" />
<line x1="347.72" y1="228.5" x2="347.72" y2="230.3" stroke="#9a9a9a" stroke-width="0.9" />
<text x="26.6" y="238.4" font-size="5.3" text-anchor="middle" font-family="'Liberation Sans', Arial, sans-serif" fill="#2a2a2a" stroke="#2a2a2a" stroke-width="0.2" textLength="31.5" lengthAdjust="spacingAndGlyphs" >1 January 1981</text>
<text x="80.12" y="238.4" font-size="5.3" text-anchor="middle" font-family="'Liberation Sans', Arial, sans-serif" fill="#2a2a2a" stroke="#2a2a2a" stroke-width="0.2" textLength="31.5" lengthAdjust="spacingAndGlyphs" >1 January 1985</text>
<text x="133.64" y="238.4" font-size="5.3" text-anchor="middle" font-family="'Liberation Sans', Arial, sans-serif" fill="#2a2a2a" stroke="#2a2a2a" stroke-width="0.2" textLength="31.5" lengthAdjust="spacingAndGlyphs" >1 January 1989</text>
<text x="187.16" y="238.4" font-size="5.3" text-anchor="middle" font-family="'Liberation Sans', Arial, sans-serif" fill="#2a2a2a" stroke="#2a2a2a" stroke-width="0.2" textLength="31.5" lengthAdjust="spacingAndGlyphs" >1 January 1993</text>
<text x="240.68" y="238.4" font-size="5.3" text-anchor="middle" font-family="'Liberation Sans', Arial, sans-serif" fill="#2a2a2a" stroke="#2a2a2a" stroke-width="0.2" textLength="31.5" lengthAdjust="spacingAndGlyphs" >1 January 1997</text>
<text x="294.2" y="238.4" font-size="5.3" text-anchor="middle" font-family="'Liberation Sans', Arial, sans-serif" fill="#2a2a2a" stroke="#2a2a2a" stroke-width="0.2" textLength="31.5" lengthAdjust="spacingAndGlyphs" >1 January 2001</text>
<text x="347.72" y="238.4" font-size="5.3" text-anchor="middle" font-family="'Liberation Sans', Arial, sans-serif" fill="#2a2a2a" stroke="#2a2a2a" stroke-width="0.2" textLength="31.5" lengthAdjust="spacingAndGlyphs" >1 January 2005</text>
<text x="193.9" y="246.3" font-size="5.8" text-anchor="middle" font-family="'Liberation Sans', Arial, sans-serif" fill="#2a2a2a" stroke="#2a2a2a" stroke-width="0.2" textLength="9.2" lengthAdjust="spacingAndGlyphs" >Day</text>
<text x="192.1" y="139.7" font-size="6.6" text-anchor="middle" font-family="'Liberation Sans', Arial, sans-serif" fill="#1a1a1a" stroke="#1a1a1a" stroke-width="0.28" textLength="34.4" lengthAdjust="spacingAndGlyphs" >Validation-2</text>
<text x="8.4" y="184" font-size="5.2" text-anchor="middle" font-family="'Liberation Sans', Arial, sans-serif" fill="#2a2a2a" stroke="#2a2a2a" stroke-width="0.2" textLength="40" lengthAdjust="spacingAndGlyphs" transform="rotate(-90 8.4 184)" dy="2">Streamflow (m³/s)</text>
<text x="7.9" y="249" font-size="6.7" text-anchor="start" font-family="'Liberation Sans', Arial, sans-serif" fill="#1a1a1a" font-weight="bold" stroke="#1a1a1a" stroke-width="0.2" textLength="65.7" lengthAdjust="spacingAndGlyphs" >(C) Tangnaihai gauge</text>
<text x="193.1" y="265.6" font-size="8.6" text-anchor="middle" font-family="'Liberation Serif', 'Times New Roman', serif" fill="#1a1a1a" font-weight="bold" stroke="#1a1a1a" stroke-width="0.2" textLength="10.4" lengthAdjust="spacingAndGlyphs" >(c)</text>
<polyline points="26.6,225.71 26.85,225.23 27.1,225.65 27.35,225.57 27.6,225.48 27.85,225.54 28.1,225.59 28.35,224.79 28.6,225.32 28.85,224.71 29.1,224.88 29.35,223.83 29.6,224.09 29.85,223.36 30.1,223.34 30.35,222 30.6,221.47 30.85,221.06 31.1,218.84 31.29,218.43 31.35,218.14 31.6,216.22 31.85,214.63 32.1,213.33 32.35,211.08 32.6,205.62 32.85,201.18 32.89,197.39 33.1,200.99 33.35,202.63 33.6,202.77 33.85,201.55 33.96,201.13 34.1,199.7 34.35,204.4 34.6,202.63 34.85,200.64 35.1,192.94 35.35,183.19 35.6,173.5 35.83,144.24 35.85,144.3 36.1,167.9 36.35,190.75 36.6,194.4 36.85,198.45 37.04,196.58 37.1,199.92 37.35,209.27 37.6,214.85 37.85,217.64 38.1,220.41 38.35,221.73 38.6,222.6 38.85,223.44 39.1,224.38 39.35,224.63 39.6,224.37 39.85,225.09 40.1,225.24 40.35,225.17 40.6,225.14 40.85,225.03 41.1,224.81 41.35,224.84 41.6,225.35 41.85,224.66 42.1,224.97 42.35,225.01 42.6,224.61 42.85,224.52 43.1,223.82 43.35,223.73 43.6,223.97 43.85,222.44 44.1,221.85 44.35,220.75 44.6,219 44.85,217.52 45.1,213.35 45.35,207.18 45.6,198.17 45.73,194.52 45.85,196.78 46.1,203.48 46.35,204.16 46.6,206.86 46.85,204.1 47.1,198.7 47.34,195.09 47.35,195.2 47.6,200.3 47.85,201.14 48.1,203.98 48.35,203.26 48.6,200.61 48.81,196.67 48.85,198.42 49.1,202.44 49.35,206.85 49.6,205.55 49.85,205.7 50.1,198.41 50.28,191.59 50.35,196.31 50.6,205.32 50.85,210.8 51.1,215.76 51.35,219.11 51.6,220.51 51.85,222.04 52.1,223 52.35,223.96 52.6,223.76 52.85,224.73 53.1,224.94 53.35,224.85 53.6,224.53 53.85,224.62 54.1,225.33 54.35,224.71 54.6,225.34 54.85,224.73 55.1,224.93 55.35,224.27 55.6,224.42 55.85,223.86 56.1,223.84 56.35,223.54 56.6,223.21 56.85,222.73 57.1,222.78 57.35,221.54 57.6,221.11 57.85,219.1 58.1,217.84 58.23,216.86 58.35,216.85 58.6,214.79 58.85,212.92 59.1,209.49 59.35,206.68 59.6,199.5 59.85,188.48 60.1,176.74 60.18,171.35 60.35,174.74 60.6,191.22 60.85,189.09 61.1,195.39 61.35,192.39 61.6,184.63 61.66,184.42 61.85,192.86 62.1,197.5 62.35,201.99 62.6,199.12 62.85,195.02 62.99,191.6 63.1,196.08 63.35,206.41 63.6,210.99 63.85,215.14 64.1,218.7 64.35,220.98 64.6,221.15 64.85,223.14 65.1,223 65.35,224.25 65.6,224.2 65.85,224.67 66.1,224.99 66.35,224.5 66.6,224.65 66.85,225.22 67.1,224.77 67.35,224.69 67.6,224.81 67.85,225.46 68.1,224.62 68.35,225.01 68.6,225.09 68.85,225.14 69.1,224.43 69.35,224.57 69.6,224.26 69.85,224.13 70.1,223.31 70.35,223.32 70.6,223.1 70.85,223.04 71.1,221.74 71.35,220.65 71.6,220.68 71.85,218.86 72.1,217.67 72.35,214.49 72.6,211.91 72.64,213.86 72.85,210.6 73.1,208.18 73.35,204.61 73.6,194.6 73.85,183.99 74.1,171.26 74.1,172.79 74.35,182.45 74.6,194.4 74.85,199.3 75.1,201.16 75.35,201.38 75.6,200.81 75.84,199.87 75.85,199.55 76.1,207.88 76.35,210.74 76.6,215.46 76.85,217.09 77.1,218.49 77.35,220.08 77.6,221.71 77.85,221.45 78.1,222.58 78.35,222.98 78.6,223.91 78.85,223.83 79.1,224.67 79.35,225.08 79.6,224.7 79.85,224.69 80.1,225 80.35,225.43 80.6,224.89 80.85,224.93 81.1,225.53 81.35,225.3 81.6,224.98 81.85,225.22 82.1,224.66 82.35,224.71 82.6,224.98 82.85,224.74 83.1,225.07 83.35,224.53 83.6,223.81 83.85,223.68 84.1,223.8 84.35,223.1 84.6,222.3 84.85,221.42 85.1,220.94 85.35,219.51 85.55,217.55 85.6,218.08 85.85,216.78 86.1,216.06 86.35,215.23 86.6,210.41 86.85,208.53 87.1,204.57 87.21,200.82 87.35,205.08 87.6,205.44 87.85,208.29 88.1,205.45 88.35,206.16 88.6,207.86 88.85,202.34 89.1,201.39 89.35,193.5 89.6,184.51 89.75,176.24 89.85,184.12 90.1,198 90.35,204.69 90.6,211.28 90.85,215.31 91.1,217.81 91.35,219.93 91.6,221.57 91.85,222.73 92.1,222.76 92.35,223 92.6,223.84 92.85,223.93 93.1,224.58 93.35,224.15 93.6,225.16 93.85,224.62 94.1,225.18 94.35,224.94 94.6,224.52 94.85,225.35 95.1,224.44 95.35,224.59 95.6,224.01 95.85,224.83 96.1,223.76 96.35,224.13 96.6,223.88 96.85,222.68 97.1,222.87 97.35,221.53 97.6,221.02 97.85,220.19 98.1,217.97 98.35,215.02 98.6,212.3 98.85,208.38 99.1,202.39 99.12,201.75 99.35,204.8 99.6,208.64 99.85,209.27 100.1,209.17 100.35,207.27 100.6,208.78 100.85,207.7 100.86,207.96 101.1,208.13 101.35,210.34 101.6,214.53 101.85,214.92 102.1,213.61 102.35,212.05 102.6,211.6 102.85,206.98 102.87,205.78 103.1,211.95 103.35,215.63 103.6,218.8 103.85,220.61 104.1,221.33 104.35,222.57 104.6,223.76 104.85,223.55 105.1,224.15 105.35,224.14 105.6,224.88 105.85,224.99 106.1,224.79 106.35,224.82 106.6,225.27 106.85,225.24 107.1,225.05 107.35,225.27 107.6,225.33 107.85,225.26 108.1,224.85 108.35,225.08 108.6,225.16 108.85,224.84 109.1,223.99 109.35,224.16 109.6,224.05 109.85,223.28 110.1,223.13 110.35,223.43 110.6,222.39 110.85,221.42 111.1,220.72 111.35,220.04 111.6,216.92 111.6,218.83 111.85,216.92 112.1,214.95 112.35,213.19 112.6,208.18 112.85,204.68 113.1,194.02 113.17,193.43 113.35,197.12 113.6,203.18 113.85,205.92 114.1,207.4 114.35,206.99 114.6,207.39 114.85,204.85 114.91,203.63 115.1,208.37 115.35,212.48 115.6,215.37 115.85,216.23 116.1,217.67 116.21,217.63 116.35,218.26 116.6,220.69 116.85,221.6 117.1,221.92 117.35,223.02 117.6,222.52 117.85,223.23 118.1,223.86 118.35,223.94 118.6,224.62 118.85,224.76 119.1,224.55 119.35,224.46 119.6,224.76 119.85,225.24 120.1,224.94 120.35,225.27 120.6,225.65 120.85,225.44 121.1,224.85 121.35,225.42 121.6,225.73 121.85,224.99 122.1,225.58 122.35,225.66 122.6,225.19 122.85,224.8 123.1,224.92 123.35,224.59 123.6,224.71 123.85,224.4 124.1,224.08 124.35,223.45 124.6,223.23 124.85,222.09 125.1,221.26 125.35,221.14 125.6,219.17 125.85,216.69 126.1,213.86 126.35,207.19 126.42,207.05 126.6,210.78 126.85,212.57 127.1,213.79 127.35,214.99 127.6,213.98 127.85,213.53 128.1,213.16 128.35,211.97 128.6,211.77 128.84,211.49 128.85,211.77 129.1,212.27 129.35,214.52 129.6,213.27 129.85,214.78 130.1,212.43 130.35,211.49 130.56,205.27 130.6,207.15 130.85,212.92 131.1,217.33 131.35,219.77 131.6,220.17 131.85,222.14 132.1,222.67 132.35,224.03 132.6,223.35 132.85,224.11 133.1,224.77 133.35,224.39 133.6,225.19 133.85,225.27 134.1,224.49 134.35,225.05 134.6,224.87 134.85,224.5 135.1,224.37 135.35,224.46 135.6,224.66 135.85,224.27 136.1,223.85 136.35,223.01 136.6,222.82 136.85,222.43 137.1,221.78 137.35,220.53 137.6,219.79 137.85,216.91 138.09,214.01 138.1,214 138.35,213.23 138.6,207.7 138.85,203.67 139.1,196.67 139.35,186.53 139.6,166.38 139.66,162.74 139.85,171.9 140.1,185.46 140.35,191.41 140.6,195.94 140.85,194.66 141.1,191.58 141.35,187.58 141.4,188.39 141.6,192.24 141.85,196.06 142.1,199.77 142.35,199.71 142.47,196.71 142.6,203.95 142.85,210.13 143.1,213.09 143.35,216.36 143.6,218.79 143.85,219.98 144.1,221.22 144.35,222.12 144.6,223.09 144.85,223.89 145.1,224.13 145.35,224.3 145.6,224.73 145.85,224.48 146.1,225.12 146.35,224.98 146.6,224.99 146.85,225.06 147.1,224.93 147.35,224.89 147.6,225 147.85,225.09 148.1,225.7 148.35,225.03 148.6,225.2 148.85,225.49 149.1,225.01 149.35,224.93 149.6,225.01 149.85,225.21 150.1,224.18 150.35,224.79 150.6,224.29 150.85,223.46 151.1,223.93 151.35,222.24 151.6,221.82 151.85,221.55 152.1,218.66 152.35,217.23 152.6,213.33 152.64,212.94 152.85,215.75 153.1,216.02 153.35,215.31 153.6,215.72 153.85,212.55 154.02,212.52 154.1,214.21 154.35,212.87 154.6,212.77 154.85,211.12 155.1,213.24 155.35,212.72 155.45,212.47 155.6,212.85 155.85,214.16 156.1,212.94 156.35,212.51 156.6,209.04 156.79,206.66 156.85,208.2 157.1,214.05 157.35,216.12 157.6,218.29 157.85,220.22 158.1,222.01 158.35,223.18 158.6,223.8 158.85,224.06 159.1,224.57 159.35,224.34 159.6,224.71 159.85,224.87 160.1,224.76 160.35,224.84 160.6,224.76 160.85,225.63 161.1,225.48 161.35,225.27 161.6,225.62 161.85,224.89 162.1,225.58 162.35,224.99 162.6,224.74 162.85,225.08 163.1,224.83 163.35,224.76 163.6,224.58 163.85,224.67 164.1,223.93 164.35,223.75 164.6,222.97 164.85,222.59 165.1,221.55 165.35,220.99 165.55,219.94 165.6,220.22 165.85,220.63 166.1,219.58 166.35,217.71 166.6,217.13 166.85,212.92 167.09,210.03 167.1,211.35 167.35,212.38 167.6,211.67 167.85,211.96 168.1,207.76 168.35,208.57 168.56,205.08 168.6,205.18 168.85,208 169.1,212.23 169.35,215.27 169.6,216.86 169.85,217.6 170.1,218.98 170.35,218.68 170.45,219.28 170.6,219.44 170.85,220.34 171.1,222.15 171.35,223.33 171.6,223.07 171.85,223.4 172.1,223.54 172.35,224.71 172.6,224.03 172.85,225.05 173.1,224.39 173.35,225.2 173.6,224.6 173.85,224.87 174.1,225.2 174.35,225.38 174.6,224.77 174.85,224.86 175.1,225.05 175.35,224.93 175.6,224.56 175.85,225.13 176.1,224.42 176.35,224.28 176.6,224.04 176.85,224.03 177.1,223.45 177.35,222.76 177.6,222.82 177.85,222.2 178.1,221.32 178.35,220.58 178.6,219.09 178.85,216.61 178.99,215.93 179.1,214.85 179.35,213.7 179.6,210.26 179.85,205.77 180.1,197.75 180.35,190.94 180.47,186.5 180.6,192.45 180.85,197.09 181.1,201.49 181.35,203.5 181.6,201.04 181.85,200.83 182.08,197.44 182.1,198.41 182.35,205.55 182.6,208.55 182.85,207.72 183.1,207.58 183.15,205.88 183.35,210.03 183.6,214.47 183.85,218.39 184.1,219.72 184.35,221.08 184.6,222.42 184.85,222.73 185.1,223.61 185.35,223.9 185.6,224.14 185.85,223.79 186.1,224.18 186.35,224.7 186.6,224.8 186.85,225.45 187.1,225.03 187.35,225.45 187.6,225.01 187.85,224.95 188.1,224.98 188.35,224.73 188.6,225.02 188.85,225.32 189.1,224.97 189.35,225.15 189.6,225.08 189.85,224.97 190.1,224.13 190.35,224.52 190.6,223.83 190.85,223.85 191.1,223.45 191.35,223.4 191.6,222.5 191.85,221.26 192.1,220.53 192.35,220.72 192.6,218.7 192.66,218.32 192.85,217.91 193.1,218.1 193.35,216.22 193.6,213.24 193.85,211.84 194.1,209.29 194.35,202.57 194.6,195.62 194.65,195.62 194.85,196.93 195.1,199.64 195.35,197.53 195.46,198.44 195.6,202.08 195.85,208.31 196.1,211.61 196.35,213.82 196.6,215.96 196.85,217.51 197.1,218.86 197.21,218.01 197.35,219.34 197.6,220.92 197.85,220.54 198.1,222.06 198.35,223.48 198.6,223.09 198.85,223.58 199.1,223.87 199.35,224.16 199.6,224.47 199.85,224.89 200.1,224.43 200.35,224.75 200.6,224.94 200.85,224.73 201.1,225.2 201.35,225.12 201.6,225.59 201.85,225.23 202.1,224.91 202.35,224.68 202.6,224.62 202.85,224.49 203.1,224.34 203.35,224.67 203.6,224.74 203.85,223.66 204.1,223.58 204.35,223.68 204.6,222.39 204.85,221.81 205.1,220.83 205.35,220.88 205.6,219.13 205.81,217.91 205.85,217.6 206.1,217.46 206.35,216.94 206.6,214.4 206.85,211.27 207.1,211.18 207.35,206.25 207.5,200.79 207.6,204.37 207.85,206.49 208.1,207.21 208.35,206.53 208.57,208.27 208.6,206.91 208.85,213.26 209.1,213.84 209.35,215.19 209.6,217.79 209.85,218.68 210.07,219.21 210.1,218.12 210.35,220.37 210.6,221.09 210.85,222.3 211.1,223.11 211.35,223.01 211.6,223.33 211.85,224.11 212.1,224.38 212.35,224.43 212.6,224.5 212.85,224.96 213.1,224.95 213.35,225.41 213.6,225.52 213.85,225.09 214.1,225.46 214.35,225.15 214.6,225.02 214.85,225.41 215.1,225.2 215.35,225.65 215.6,225.22 215.85,225.57 216.1,225.55 216.35,225.26 216.6,225.28 216.85,225.04 217.1,224.81 217.35,224.39 217.6,223.93 217.85,224.4 218.1,223.97 218.35,223.27 218.6,223.51 218.85,221.58 219.1,221.13 219.35,220.84 219.39,220.9 219.6,221.08 219.85,219.32 220.1,218.83 220.35,217.99 220.6,215.03 220.85,213.77 220.88,214.93 221.1,215.16 221.35,213.95 221.6,214.13 221.85,211.43 222.1,212.29 222.35,210.06 222.48,210.32 222.6,209.84 222.85,214.57 223.1,214.5 223.35,218.03 223.6,218.2 223.85,219.15 224.1,219.27 224.35,220.25 224.46,221.27 224.6,221.14 224.85,221.83 225.1,221.83 225.35,222.87 225.6,222.92 225.85,224.07 226.1,224.19 226.35,224.32 226.6,224.79 226.85,224.46 227.1,225.33 227.35,224.98 227.6,225.18 227.85,224.73 228.1,225.18 228.35,225.01 228.6,225.5 228.85,224.75 229.1,225.43 229.35,224.75 229.6,224.35 229.85,224.45 230.1,224.3 230.35,224.13 230.6,224.1 230.85,224.03 231.1,223.61 231.35,223.71 231.6,222.57 231.85,221.28 232.09,220.7 232.1,221.22 232.35,220.55 232.6,220.53 232.85,220.42 233.1,218.11 233.35,217.1 233.6,217.15 233.85,215.48 234.1,213.34 234.35,211.43 234.39,211.45 234.6,212.09 234.85,214.6 235.1,212.15 235.35,213.45 235.6,214.28 235.73,214.38 235.85,215.15 236.1,216.54 236.35,219.18 236.6,219.67 236.85,218.92 237.05,219.42 237.1,219.76 237.35,220.29 237.6,221.63 237.85,222.14 238.1,223.37 238.35,223.59 238.6,223.65 238.85,223.91 239.1,224.82 239.35,224.6 239.6,224.78 239.85,225.11 240.1,224.89 240.35,224.7 240.6,225.37 240.85,225.2 241.1,224.99 241.35,224.95 241.6,225.02 241.85,225.37 242.1,224.58 242.35,224.65 242.6,224.37 242.85,224.44 243.1,224.11 243.35,224.02 243.6,223.48 243.85,223.4 244.1,222.38 244.35,220.93 244.6,220.09 244.85,219.81 244.94,219.44 245.1,218.08 245.35,217.41 245.6,215.51 245.85,214.86 246.1,210.55 246.35,207.8 246.43,206.5 246.6,208.47 246.85,208.56 247.1,211.03 247.35,208.43 247.6,209.38 247.85,208.37 248.04,208.22 248.1,209.74 248.35,213.15 248.6,214.89 248.85,215.38 249.1,216.89 249.35,218.86 249.43,218.1 249.6,219.6 249.85,219.52 250.1,220.88 250.35,221.87 250.6,222.63 250.85,222.64 251.1,223.84 251.35,223.72 251.6,224.6 251.85,224.28 252.1,224.97 252.35,224.33 252.6,224.51 252.85,225.55 253.1,224.8 253.35,225.42 253.6,224.87 253.85,224.88 254.1,225.44 254.35,225.76 254.56,228.2" fill="none" stroke="#2a72d2" stroke-width="1.05" stroke-linejoin="round"/>
<polyline points="254.56,228.2 266.94,228.2" fill="none" stroke="#2a72d2" stroke-width="1.2" stroke-linejoin="round"/>
<polyline points="266.94,228.2 267.1,225.16 267.35,225.78 267.6,225.66 267.85,225.68 268.1,224.88 268.35,225.18 268.6,224.8 268.85,224.86 269.1,225.03 269.35,224.5 269.6,223.88 269.85,224.31 270.1,224.17 270.35,223.41 270.6,222.64 270.85,222.31 271.1,221.64 271.35,219.73 271.6,218.45 271.73,217.86 271.85,217.76 272.1,216.26 272.35,215.14 272.6,213.85 272.85,211.4 273.1,206.42 273.19,208.04 273.35,207.34 273.6,204.08 273.85,201.67 274.1,197.63 274.35,187.01 274.4,188.01 274.6,190.74 274.85,197.9 275.1,202.11 275.35,204.2 275.6,206.56 275.85,204.47 275.87,202.69 276.1,207.61 276.35,212.04 276.6,216.38 276.85,217.24 277.1,218.88 277.35,220.05 277.6,221.69 277.85,222.34 278.1,222.54 278.35,223.73 278.6,223.27 278.85,224.29 279.1,224.38 279.35,224.17 279.6,224.55 279.85,224.78 280.1,224.62 280.35,225.01 280.6,225.53 280.85,225.15 281.1,225.45 281.35,224.75 281.6,224.74 281.85,225.13 282.1,224.76 282.35,224.67 282.6,224.77 282.85,224.42 283.1,223.7 283.35,224.12 283.6,223.2 283.85,223.01 284.1,222.97 284.35,221.42 284.6,220.83 284.85,219.39 284.99,218.93 285.1,219.74 285.35,218.96 285.6,218.05 285.85,216.7 286.1,214.02 286.35,212.78 286.6,207.68 286.71,205.85 286.85,206.22 287.1,210.54 287.35,208.49 287.6,209.18 287.85,209.68 288.1,210.33 288.35,210.12 288.58,211.11 288.6,212.71 288.85,213.93 289.1,215.51 289.35,217.42 289.6,218.21 289.85,220.56 289.99,220.71 290.1,220.29 290.35,221.51 290.6,222.17 290.85,221.96 291.1,223 291.35,223.99 291.6,224.08 291.85,224.43 292.1,224.59 292.35,224.43 292.6,224.4 292.85,224.66 293.1,224.91 293.35,224.98 293.6,225.23 293.85,225.31 294.1,225.57 294.35,225.03 294.6,225.28 294.85,225.43 295.1,225.39 295.35,225.24 295.6,225.45 295.85,225.57 296.1,225.49 296.35,224.58 296.6,224.48 296.85,224.69 297.1,224.37 297.35,224.51 297.6,224.35 297.85,223.81 298.1,223.03 298.35,222.8 298.6,222.24 298.85,221.08 298.89,221.25 299.1,220.6 299.35,219.49 299.6,217.98 299.85,216.47 300.1,215.28 300.22,212.64 300.35,213.6 300.6,214.72 300.85,213.79 301.1,214.89 301.35,212.8 301.6,214.58 301.85,214.7 302.1,215.2 302.35,213.86 302.5,214.63 302.6,214.14 302.85,216.27 303.1,217.38 303.35,219.03 303.6,219.65 303.85,220.07 303.91,219.99 304.1,220.75 304.35,222.37 304.6,223.15 304.85,223.24 305.1,223.56 305.35,223.66 305.6,223.98 305.85,224.68 306.1,224.54 306.35,224.28 306.6,225.16 306.85,225.02 307.1,225.09 307.35,224.99 307.6,225.05 307.85,225.33 308.1,225.1 308.35,225 308.6,225.39 308.85,224.84 309.1,224.89 309.35,224.92 309.6,224.74 309.85,224.77 310.1,224.28 310.35,223.94 310.6,224.24 310.85,223.65 311.1,223.31 311.35,222.37 311.6,222.32 311.85,220.39 312.1,220.83 312.35,219.29 312.35,219.57 312.6,219.32 312.85,218.3 313.1,217.32 313.35,216.22 313.6,215.43 313.85,211.46 314,210.29 314.1,210.07 314.35,210.92 314.6,211.22 314.85,212.37 315.1,212.49 315.35,212.98 315.6,214.88 315.61,214.59 315.85,216.79 316.1,216.7 316.35,219.06 316.6,219.87 316.85,218.84 316.94,219.05 317.1,220.57 317.35,222.31 317.6,222.96 317.85,222.94 318.1,223.72 318.35,223.44 318.6,224.3 318.85,224.13 319.1,224.4 319.35,225.01 319.6,225.05 319.85,225.27 320.1,225.06 320.35,225.03 320.6,224.89 320.85,225.34 321.1,225.06 321.35,225.06 321.6,225.76 321.85,225.49 322.1,225.19 322.35,225.85 322.6,225.61 322.85,225.4 323.1,224.93 323.35,225.52 323.6,224.76 323.85,225.21 324.1,225.35 324.35,224.42 324.6,224.65 324.85,223.97 325.1,223.75 325.35,223.21 325.6,223.21 325.85,222.38 326.1,222.92 326.35,220.75 326.6,220.5 326.85,219.11 326.98,218.64 327.1,218.1 327.35,218 327.6,215.78 327.85,214.49 328.1,213.45 328.32,213.5 328.35,212.47 328.6,211.79 328.85,213.33 329.1,212.67 329.35,209.29 329.6,207.84 329.85,209.28 329.93,207.53 330.1,210.71 330.35,212.7 330.6,215.06 330.85,215.98 331.1,217.45 331.35,218.78 331.43,219.01 331.6,220.04 331.85,220.71 332.1,222.18 332.35,222.74 332.6,222.64 332.85,223.8 333.1,223.96 333.35,224.32 333.6,224.51 333.85,224.76 334.1,224.78 334.35,225.22 334.6,225.05 334.85,225.31 335.1,225.46 335.35,225.24 335.6,224.95 335.85,225.14 336.1,225.15 336.35,225.22 336.6,225.13 336.85,225.3 337.1,224.81 337.35,224.47 337.6,224.93 337.85,224.76 338.1,224.26 338.35,224.06 338.6,224.09 338.85,223.9 339.1,223.41 339.35,222.4 339.6,221.98 339.85,220.32 340.1,219.52 340.35,218.61 340.56,216.96 340.6,218.11 340.85,218.49 341.1,216.48 341.35,215.83 341.6,213.35 341.85,213.19 342.1,212.08 342.35,209.71 342.6,211.54 342.85,209.86 343.1,209.71 343.17,209.71 343.35,211.65 343.6,213.36 343.85,215.64 344.1,217.9 344.35,218.93 344.6,219.61 344.85,220.48 344.97,220.52 345.1,221.23 345.35,222 345.6,222.31 345.85,223.27 346.1,223.07 346.35,224.13 346.6,224.5 346.85,224.16 347.1,224.25 347.35,224.79 347.6,224.91 347.7,228.2" fill="none" stroke="#2a72d2" stroke-width="1.05" stroke-linejoin="round"/>
<polyline points="347.7,228.2 361,228.2" fill="none" stroke="#2a72d2" stroke-width="1.3" stroke-linejoin="round"/>
<polyline points="26.6,225.45 26.85,225.67 27.1,225.38 27.35,226.04 27.6,225.67 27.85,225.95 28.1,225.66 28.35,225.13 28.6,225.6 28.85,225.24 29.1,224.97 29.35,224.44 29.6,223.89 29.85,223.67 30.1,223.4 30.35,222.57 30.6,221.84 30.85,220.6 31.1,219.29 31.35,217.29 31.6,213.23 31.85,210.14 32.1,204.3 32.35,194.21 32.6,179.36 32.62,180.3 32.85,189.68 33.1,187.16 33.29,187.26 33.35,191.76 33.6,193.86 33.85,195.74 34.1,195.13 34.35,196.98 34.6,188.6 34.63,191 34.85,191.62 35.1,188.43 35.35,178.34 35.6,162.38 35.83,139.41 35.85,146.91 36.1,172.53 36.35,188.65 36.6,203.4 36.85,209.43 37.1,213.84 37.35,218.22 37.6,220.45 37.85,222.1 38.1,222.43 38.35,223.69 38.6,223.97 38.85,224.53 39.1,224.59 39.35,225 39.6,225.36 39.85,225.32 40.1,225.42 40.35,225.87 40.6,225.45 40.85,225.47 41.1,225.79 41.35,225.82 41.6,225.92 41.85,225.13 42.1,225.5 42.35,224.79 42.6,225.61 42.85,225.04 43.1,224.67 43.35,224.47 43.6,224.03 43.85,224.17 44.1,223.27 44.35,222.69 44.6,221.03 44.85,219.58 45.1,218.02 45.35,214.86 45.6,210.52 45.85,205.34 46,200.98 46.1,203.78 46.35,208.03 46.6,209.47 46.85,210.23 47.1,209.95 47.35,209.11 47.6,207.95 47.85,202.13 48.01,203.32 48.1,204.27 48.35,205.72 48.6,209.36 48.85,210.16 49.1,213.06 49.35,209.57 49.6,210.17 49.85,207.77 50.1,203.2 50.15,198.88 50.35,205.19 50.6,212.12 50.85,216.09 51.1,219.19 51.35,219.77 51.6,221.43 51.85,223.21 52.1,223.83 52.35,223.58 52.6,224.05 52.85,224.52 53.1,225.36 53.35,225.27 53.6,225.13 53.85,225.46 54.1,225.58 54.35,225.01 54.6,225.32 54.85,225.05 55.1,225.27 55.35,224.92 55.6,224.98 55.85,224.64 56.1,224.66 56.35,224.01 56.6,223.43 56.85,223.87 57.1,222.94 57.35,222.18 57.6,221.26 57.85,220.81 58.1,219.92 58.1,219.78 58.35,218.14 58.6,217.66 58.85,215.44 59.1,214.06 59.35,211.27 59.6,208.12 59.85,201.9 60.1,196.04 60.32,183.09 60.35,183.09 60.6,190.07 60.85,198.93 61.1,200.16 61.35,203.37 61.6,200.89 61.85,198.39 62.06,193.14 62.1,195.66 62.35,203.3 62.6,210.29 62.85,215.65 63.1,216.97 63.35,218.94 63.6,220.78 63.85,221.34 64.1,221.74 64.35,222.45 64.6,223.81 64.85,223.98 65.1,223.96 65.35,224.67 65.6,224.33 65.85,225.42 66.1,224.8 66.35,225.27 66.6,225.59 66.85,225.8 67.1,225.49 67.35,225.19 67.6,225.93 67.85,225.69 68.1,225.64 68.35,225.22 68.6,225.04 68.85,224.92 69.1,225.41 69.35,225.34 69.6,225.05 69.85,224.55 70.1,223.78 70.35,224.3 70.6,222.85 70.85,223.17 71.1,222.63 71.35,221.34 71.6,220.83 71.85,219.38 72.1,219.33 72.35,216.79 72.6,215.13 72.75,212.34 72.85,212.42 73.1,210.32 73.35,209.47 73.6,204.38 73.85,197.96 74.1,187.79 74.1,190.15 74.35,195.55 74.6,201.03 74.85,205.56 75.1,209.62 75.35,211.02 75.6,212.02 75.85,213.48 76.05,214.51 76.1,216.14 76.35,216.92 76.6,218.81 76.85,219.59 77.1,221.12 77.35,221.42 77.6,221.88 77.85,222.96 78.1,223.7 78.35,223.99 78.6,224.52 78.85,224.77 79.1,224.78 79.35,224.61 79.6,225.15 79.85,225.18 80.1,225.13 80.35,225.42 80.6,225.7 80.85,225.64 81.1,225.75 81.35,225.92 81.6,225.78 81.85,225.64 82.1,225.2 82.35,225.78 82.6,225.12 82.85,225.21 83.1,225.24 83.35,224.97 83.6,225 83.85,224.6 84.1,224.42 84.35,223.77 84.6,222.8 84.85,222.43 85.1,221.96 85.35,220.71 85.6,221.43 85.85,218.54 86,217.32 86.1,217.11 86.35,217.44 86.6,216.86 86.85,216.24 87.1,213.05 87.35,209.85 87.48,208.53 87.6,208.3 87.85,209.72 88.1,208.36 88.35,209.46 88.6,205.56 88.85,208.35 89.1,204.35 89.35,200.89 89.6,192.29 89.75,186.23 89.85,193.9 90.1,201.22 90.35,208.26 90.6,213.3 90.85,215.83 91.08,217.59 91.1,218.76 91.35,219.49 91.6,221.55 91.85,221.9 92.1,223.3 92.35,223.78 92.6,223.5 92.85,224.47 93.1,224.92 93.35,224.41 93.6,225.34 93.85,225.15 94.1,224.96 94.35,225.65 94.6,225.26 94.85,224.77 95.1,224.8 95.35,225.29 95.6,224.9 95.85,225.15 96.1,224.23 96.35,224.05 96.6,224.4 96.85,224.19 97.1,223.45 97.35,223.29 97.6,221.93 97.85,222.36 98.1,221.27 98.35,219.73 98.6,217.59 98.85,215.49 98.85,214.26 99.1,212.32 99.35,209.89 99.6,206.39 99.85,200.72 100.1,188.17 100.19,185.62 100.35,190.72 100.6,197.62 100.85,199.98 101.1,205.28 101.35,207.31 101.6,206.22 101.8,204.52 101.85,207.11 102.1,209.74 102.35,213.65 102.6,215.27 102.85,216.82 103.1,217.94 103.32,219.08 103.35,219.34 103.6,221.06 103.85,222 104.1,222.16 104.35,223.18 104.6,223.53 104.85,223.9 105.1,223.91 105.35,224.83 105.6,225.2 105.85,224.43 106.1,224.54 106.35,224.94 106.6,225.33 106.85,225.47 107.1,225.32 107.35,225.53 107.6,225.43 107.85,225.35 108.1,225.24 108.35,225.27 108.6,224.75 108.85,225.17 109.1,224.88 109.35,224.74 109.6,224.26 109.85,224.15 110.1,223.93 110.35,222.96 110.6,222.36 110.85,221.55 111.1,220.82 111.35,218.35 111.56,217.29 111.6,218.55 111.85,216.4 112.1,215.84 112.35,215.29 112.6,210.18 112.85,209.27 113.1,200.99 113.35,195.84 113.57,187.26 113.6,188.12 113.85,192.72 114.1,197.07 114.35,199.27 114.6,200.77 114.64,201.89 114.85,205.96 115.1,209.68 115.35,214.25 115.6,215.56 115.85,216.63 116.1,218.95 116.35,219.01 116.38,219.07 116.6,220.61 116.85,221.76 117.1,222.89 117.35,223.14 117.6,223.06 117.85,223.67 118.1,224.07 118.35,224.43 118.6,224.5 118.85,225.39 119.1,224.62 119.35,225.6 119.6,225.81 119.85,225.15 120.1,225.62 120.35,225.71 120.6,225.34 120.85,226.1 121.1,226.01 121.35,225.47 121.6,225.51 121.85,225.53 122.1,225.72 122.35,225.73 122.6,225.69 122.85,225.31 123.1,224.9 123.35,225.46 123.6,224.66 123.85,224.88 124.1,224.63 124.35,224.25 124.6,224.18 124.85,223.53 125.1,222.52 125.35,222.07 125.6,221.47 125.85,221.18 126.1,220.03 126.35,218.95 126.6,215.7 126.85,214.12 126.95,212.31 127.1,212.18 127.35,213.68 127.6,213.95 127.85,213.93 128.1,210.65 128.35,210.22 128.36,210.16 128.6,214.19 128.85,213.69 129.1,214.64 129.35,215.91 129.6,215.68 129.85,216.23 130.1,215.4 130.35,211.39 130.56,208.15 130.6,209.39 130.85,214.25 131.1,218.1 131.35,219.6 131.6,221.66 131.85,222.19 132.1,223.19 132.35,223.43 132.6,224.4 132.85,224.97 133.1,224.96 133.35,225.25 133.6,225.25 133.85,224.95 134.1,225.43 134.35,225.67 134.6,224.92 134.85,225.31 135.1,225.41 135.35,224.75 135.6,225.43 135.85,225.25 136.1,224.89 136.35,224.47 136.6,223.68 136.85,224.09 137.1,223.47 137.35,222.43 137.6,221.75 137.85,221.17 138.1,219.61 138.35,218.17 138.55,216.25 138.6,216.86 138.85,216.49 139.1,213.46 139.35,211.41 139.6,205.53 139.85,198.11 140.1,188.25 140.33,177.61 140.35,180.55 140.6,186.12 140.85,191.75 141.1,194.16 141.35,197.26 141.6,196.54 141.67,193.13 141.85,198.98 142.1,205.2 142.35,210.09 142.6,213.17 142.85,213.36 143.1,216.9 143.35,217.08 143.41,217.69 143.6,218.19 143.85,219.19 144.1,221.05 144.35,222.01 144.6,222.9 144.85,222.98 145.1,223.9 145.35,224.05 145.6,224.2 145.85,224.12 146.1,225.03 146.35,224.86 146.6,224.73 146.85,225.81 147.1,225.46 147.35,225.78 147.6,225.09 147.85,225.79 148.1,225.51 148.35,225.96 148.6,225.72 148.85,225.79 149.1,225.74 149.35,225.8 149.6,225.11 149.85,225.42 150.1,224.74 150.35,225.43 150.6,225.24 150.85,224.85 151.1,224.32 151.35,224.34 151.6,223.9 151.85,223.32 152.1,222.57 152.35,222.22 152.6,220.97 152.85,220.86 153.1,218.76 153.35,218.96 153.6,217.05 153.73,217.05 153.85,217.56 154.1,214.2 154.35,214.09 154.6,212.66 154.85,212.15 155.05,209.71 155.1,209.71 155.35,210.96 155.6,213.01 155.85,215.33 156.1,215.3 156.35,217.32 156.6,218.02 156.85,219.99 157.09,219.8 157.1,220 157.35,220.77 157.6,222 157.85,222.03 158.1,223.24 158.35,223.2 158.6,224.31 158.85,224.1 159.1,224.5 159.35,224.67 159.6,224.83 159.85,224.98 160.1,225.43 160.35,225.23 160.6,225.26 160.85,225.36 161.1,225.67 161.35,225.26 161.6,225.91 161.85,225.16 162.1,225.6 162.35,225.69 162.6,225.69 162.85,225 163.1,225.62 163.35,224.76 163.6,224.66 163.85,225.08 164.1,224.35 164.35,224.38 164.6,224.15 164.85,223.77 165.1,223.21 165.35,222.72 165.6,222.31 165.85,221.4 166.1,220.58 166.19,219.63 166.35,219.48 166.6,220.36 166.85,217.93 167.1,217.26 167.35,217.22 167.6,214.91 167.85,214.19 168.1,210.65 168.35,208.15 168.43,209.81 168.6,211.62 168.85,212.3 169.1,212.54 169.35,215.02 169.6,217.61 169.85,216.9 170,217.74 170.1,218.7 170.35,218.3 170.6,220.38 170.85,220.92 171.1,222.43 171.35,222.22 171.6,223.02 171.85,223.4 172.1,223.71 172.35,224.31 172.6,224.73 172.85,224.67 173.1,224.63 173.35,225.5 173.6,225.48 173.85,225.23 174.1,225.21 174.35,225.59 174.6,224.92 174.85,225.09 175.1,225.83 175.35,225.39 175.6,225.15 175.85,225.62 176.1,225.37 176.35,224.63 176.6,224.92 176.85,224.92 177.1,224.56 177.35,224.48 177.6,223.57 177.85,222.74 178.1,222.85 178.35,222.3 178.6,221.78 178.85,220.67 179.1,220.25 179.35,217.47 179.6,217.97 179.73,215.73 179.85,214.07 180.1,213.56 180.35,213.07 180.6,210 180.85,207.71 181.1,204.79 181.14,203.54 181.35,208.03 181.6,208.6 181.85,212.17 182.1,215.4 182.35,216.81 182.6,217.91 182.85,218.7 183.1,218.59 183.35,218.23 183.6,219.55 183.66,219.32 183.85,220.71 184.1,220.92 184.35,222.45 184.6,222.87 184.85,223.93 185.1,223.9 185.35,224.27 185.6,224.52 185.85,224.86 186.1,225.25 186.35,225.19 186.6,225.69 186.85,225.66 187.1,225.7 187.35,225.78 187.6,225.5 187.85,225.66 188.1,225.33 188.35,225.33 188.6,225.4 188.85,225.16 189.1,225.57 189.35,225.18 189.6,225.07 189.85,225.21 190.1,225.57 190.35,224.74 190.6,224.76 190.85,224.56 191.1,224.69 191.35,224.06 191.6,224.13 191.85,223.44 192.1,222.77 192.35,222.1 192.6,220.82 192.85,220.36 193.1,218.44 193.35,218.55 193.57,216.54 193.6,215.3 193.85,215.72 194.1,214.11 194.35,211.74 194.6,207.13 194.85,203.71 194.92,203.06 195.1,203.51 195.35,207.9 195.6,211.34 195.85,212.46 196.1,212.87 196.35,211.63 196.41,213.05 196.6,215.92 196.85,217 197.1,217.54 197.35,219.38 197.6,219 197.72,218.58 197.85,220.56 198.1,221.43 198.35,222.32 198.6,222.27 198.85,222.83 199.1,223.89 199.35,223.98 199.6,224.43 199.85,224.46 200.1,224.85 200.35,225.14 200.6,225.62 200.85,224.91 201.1,224.99 201.35,225.51 201.6,225.58 201.85,225.32 202.1,225.85 202.35,225.16 202.6,225.55 202.85,224.81 203.1,225.54 203.35,225.49 203.6,225.42 203.85,225.24 204.1,224.62 204.35,223.89 204.6,223.78 204.85,223.24 205.1,222.93 205.35,222.4 205.6,221.96 205.85,220.72 206.1,219.7 206.35,219.44 206.6,217.93 206.85,218.38 207.1,217.21 207.35,217.04 207.6,215.17 207.85,215.51 208.1,214.35 208.35,211.28 208.57,211.28 208.6,213.19 208.85,215.51 209.1,216.59 209.35,217.61 209.6,217.96 209.85,217.26 210.1,219.76 210.35,218.85 210.6,220.38 210.69,219.19 210.85,220.62 211.1,221.23 211.35,222.97 211.6,222.92 211.85,223.7 212.1,223.51 212.35,224.23 212.6,224.38 212.85,224.41 213.1,225.24 213.35,225.16 213.6,225.2 213.85,224.99 214.1,225.8 214.35,225.19 214.6,225.84 214.85,225.15 215.1,225.85 215.35,225.7 215.6,225.55 215.85,225.12 216.1,225.88 216.35,225.84 216.6,225.13 216.85,224.95 217.1,225.5 217.35,224.95 217.6,224.6 217.85,224.49 218.1,223.8 218.35,223.98 218.6,223.32 218.85,222.39 219.1,222.27 219.35,221.39 219.6,221.6 219.85,219.8 220.1,219.21 220.35,218.54 220.6,215.72 220.85,212.19 220.98,211.41 221.1,213.15 221.35,212.1 221.6,209.85 221.85,203.55 222.1,203.83 222.35,193.04 222.48,189.2 222.6,192.1 222.85,203.88 223.1,208.94 223.35,211.78 223.6,214.38 223.85,216.06 224.1,218.24 224.35,217.28 224.43,217.97 224.6,219.61 224.85,221 225.1,221.01 225.35,222.66 225.6,222.61 225.85,223.79 226.1,223.94 226.35,224 226.6,224.62 226.85,224.84 227.1,225.11 227.35,224.45 227.6,224.67 227.85,224.87 228.1,224.81 228.35,225.82 228.6,225.43 228.85,225.28 229.1,225.27 229.35,224.89 229.6,224.71 229.85,224.89 230.1,224.41 230.35,225.21 230.6,224.54 230.85,224.4 231.1,223.71 231.35,222.98 231.6,222.73 231.85,222.64 232.1,221.53 232.35,219.95 232.6,218.52 232.72,218.51 232.85,218.33 233.1,218.4 233.35,215.77 233.6,214.35 233.85,215.04 234.1,211.23 234.35,207.35 234.6,203.3 234.85,198.7 234.93,195.62 235.1,199.48 235.35,206.56 235.6,208.7 235.85,211.72 236.1,212.15 236.35,216.74 236.6,216.55 236.85,217.07 237.1,217.77 237.2,219.09 237.35,219.35 237.6,219.81 237.85,221.99 238.1,221.78 238.35,222.54 238.6,223.58 238.85,223.92 239.1,223.69 239.35,224.65 239.6,224.75 239.85,224.71 240.1,224.56 240.35,225.2 240.6,225.24 240.85,224.88 241.1,225.13 241.35,225.54 241.6,225.05 241.85,224.88 242.1,225.48 242.35,225.08 242.6,224.98 242.85,224.97 243.1,225.32 243.35,224.3 243.6,224.01 243.85,224.77 244.1,223.76 244.35,223.63 244.6,222.56 244.85,222.94 245.1,221.04 245.35,221.16 245.48,219.43 245.6,220.29 245.85,218.73 246.1,216.68 246.35,215.77 246.6,214.37 246.85,210.05 247.1,205.02 247.35,199.69 247.37,201.44 247.6,204.8 247.85,207.48 248.1,207.29 248.35,209.38 248.6,211.95 248.85,210.9 249.1,212.34 249.12,210.09 249.35,212.29 249.6,215.52 249.85,216.75 250.1,217.94 250.35,218.78 250.6,219.92 250.71,219.53 250.85,220.38 251.1,220.98 251.35,222.59 251.6,223.23 251.85,223.84 252.1,224.44 252.35,224.35 252.6,224.92 252.85,224.49 253.1,225.42 253.35,225.53 253.6,225.52 253.85,225.65 254.1,225.67 254.35,225.97 254.6,225.7 254.7,226.8 256.3,222 257.8,215.9 259.9,207.6 261.2,203 262,199.3 262.8,203 264,209.7 265.7,220 267.1,226.3 267.35,224.9 267.6,224.84 267.85,225.08 268.1,225.04 268.35,225.34 268.6,225.13 268.85,224.74 269.1,224.68 269.35,224.6 269.6,224.16 269.85,223.61 270.1,223.32 270.35,222.56 270.6,223.11 270.85,222.04 271.1,221.43 271.35,219.16 271.6,218.59 271.79,215.45 271.85,214.99 272.1,213.67 272.35,211.76 272.6,210.21 272.85,204.73 273.1,198.34 273.19,194.49 273.35,199.86 273.6,199.8 273.85,203.45 274.1,202.64 274.35,204.67 274.6,203.8 274.8,204.07 274.85,202.88 275.1,207.36 275.35,211.94 275.6,213.62 275.85,216.37 276.1,217.39 276.35,217.67 276.47,218.25 276.6,218.92 276.85,219.66 277.1,221.6 277.35,222.61 277.6,222.95 277.85,222.97 278.1,223.62 278.35,224.48 278.6,223.85 278.85,224.69 279.1,224.53 279.35,224.65 279.6,224.76 279.85,225.13 280.1,225.25 280.35,225.4 280.6,225.44 280.85,225.67 281.1,225.76 281.35,225.56 281.6,225.32 281.85,225.41 282.1,225.6 282.35,225.08 282.6,225.7 282.85,225.22 283.1,224.76 283.35,225.17 283.6,224.93 283.85,224.41 284.1,224.71 284.35,223.89 284.6,223.68 284.85,223.27 285.1,222.76 285.35,222.49 285.6,221.45 285.85,220.58 286.1,219.97 286.2,218.38 286.35,217.69 286.6,218.01 286.85,217.37 287.1,213.93 287.35,211.28 287.51,211.28 287.6,212.19 287.85,211.79 288.1,211.28 288.35,211.28 288.6,215.12 288.85,216.36 289.1,215.7 289.35,216.45 289.56,216.24 289.6,217.78 289.85,218.06 290.1,220.11 290.35,219.39 290.6,221.96 290.85,222.18 291.1,221.68 291.35,222.79 291.6,223.23 291.85,224.27 292.1,223.88 292.35,224.89 292.6,224.23 292.85,224.65 293.1,224.71 293.35,225.65 293.6,225.79 293.85,225.04 294.1,225.15 294.35,225.19 294.6,225.4 294.85,225.37 295.1,225.58 295.35,225.36 295.6,225.68 295.85,225.54 296.1,225.83 296.35,225.97 296.6,225.26 296.85,225.46 297.1,225.24 297.35,225.32 297.6,225.12 297.85,224.86 298.1,224.67 298.35,224.43 298.6,224.49 298.85,223.45 299.1,222.67 299.35,222.74 299.6,222.09 299.85,221.08 300.1,220.36 300.35,217.9 300.45,218.26 300.6,217.41 300.85,217.26 301.1,217.28 301.35,216.65 301.6,214.84 301.85,211.36 301.98,211.49 302.1,210.38 302.35,211.45 302.6,209.62 302.85,208.59 303.1,208.24 303.3,206.38 303.35,207.89 303.6,211.98 303.85,213.91 304.1,217.51 304.35,217.54 304.6,219.45 304.85,217.91 304.91,219.08 305.1,220.56 305.35,220.79 305.6,221.77 305.85,222.72 306.1,223.54 306.35,224.02 306.6,224.55 306.85,224.74 307.1,224.63 307.35,225.07 307.6,225.47 307.85,224.99 308.1,225.29 308.35,225.74 308.6,225.65 308.85,225.86 309.1,225.23 309.35,225.24 309.6,225.47 309.85,225.4 310.1,225.14 310.35,225.35 310.6,225.46 310.85,224.47 311.1,224.7 311.35,224.82 311.6,224.17 311.85,224.13 312.1,223.56 312.35,222.63 312.6,222.52 312.85,222.27 313.06,220.57 313.1,221.21 313.35,220.39 313.6,220.13 313.85,218.96 314.1,218.69 314.35,217.78 314.39,216.87 314.6,215.39 314.85,215.03 315.1,214.36 315.35,213.62 315.6,212.84 315.85,212.84 315.85,212.84 316.1,212.84 316.35,214.26 316.6,215.3 316.85,216.56 317.1,215.2 317.35,212.84 317.48,212.84 317.6,215.81 317.85,216.24 318.1,219.32 318.35,220.86 318.6,222.12 318.85,222.68 319.1,222.99 319.35,223.53 319.6,224.01 319.85,224.19 320.1,224.59 320.35,224.71 320.6,225.65 320.85,225.11 321.1,225.77 321.35,225.83 321.6,225.07 321.85,225.45 322.1,225.61 322.35,225.36 322.6,225.9 322.85,225.29 323.1,225.58 323.35,225.58 323.6,225.21 323.85,225.19 324.1,224.96 324.35,224.35 324.6,224.77 324.85,224.95 325.1,223.64 325.35,223.92 325.6,223.44 325.85,222.78 326.1,222.42 326.35,221.96 326.6,221.13 326.85,219.87 327.1,218.57 327.35,216.64 327.58,216.2 327.6,216.43 327.85,216.2 328.1,212.77 328.35,214.32 328.6,211.61 328.85,207.71 329.1,206.07 329.35,206 329.6,201.1 329.85,198.68 329.93,192.33 330.1,196.65 330.35,203.7 330.6,209.47 330.85,213.25 331.1,214.77 331.26,213.97 331.35,214.65 331.6,217.95 331.85,218.9 332.1,220.82 332.35,221.3 332.6,222.57 332.85,223.64 333.1,223.13 333.35,224.47 333.6,224.13 333.85,224.78 334.1,224.9 334.35,225.27 334.6,224.68 334.85,225.29 335.1,225.34 335.35,225.74 335.6,225.28 335.85,225.48 336.1,225.09 336.35,225.1 336.6,224.95 336.85,224.93 337.1,225.61 337.35,224.91 337.6,225.16 337.85,224.63 338.1,224.99 338.35,224.03 338.6,223.96 338.85,222.71 339.1,222.49 339.35,222.6 339.6,221.53 339.85,219.73 340.05,218.98 340.1,218.93 340.35,218.87 340.6,217.76 340.85,215.68 341.1,215.11 341.35,212.46 341.49,213.01 341.6,213.11 341.85,209.81 342.1,207.45 342.35,205.95 342.6,204.87 342.85,201.41 342.9,199.69 343.1,203.18 343.35,207.38 343.6,211.57 343.85,212.63 344.1,213.33 344.35,214.21 344.38,215.85 344.6,216.03 344.85,218.33 345.1,220.64 345.35,220.37 345.6,220.9 345.85,222.22 346.1,222.82 346.35,223.67 346.6,223.94 346.85,223.87 347.1,224.37 347.35,224.75 347.6,224.74 347.85,225.02 348.1,224.8 348.35,225.23 348.6,225.28 348.85,225.08 349.1,225.67 349.35,225.14 349.6,225.7 349.85,225.14 350.1,224.93 350.35,225.51 350.6,225.34 350.85,225.19 351.1,224.72 351.35,224.16 351.6,223.84 351.85,223.46 352.1,223.27 352.35,222.14 352.6,220.91 352.85,220.55 353.1,218.59 353.35,214.56 353.6,213.41 353.85,207.17 354.1,199.1 354.14,197.87 354.35,203.4 354.6,206.1 354.85,207.33 355.1,205.85 355.35,204.01 355.48,202.59 355.6,204.15 355.85,205.12 356.1,206.49 356.35,210.76 356.6,207.84 356.85,208.27 357.1,209.3 357.35,205.94 357.6,199.24 357.85,184.82 357.89,185.96 358.1,195.06 358.35,205.22 358.6,212.88 358.85,217.16 359.1,219.31 359.35,220.76 359.6,222.71 359.85,223.25 360.1,223.61 360.35,224.27 360.6,224.94 360.85,224.86" fill="none" stroke="#4caf3c" stroke-width="0.95" stroke-linejoin="round" stroke-dasharray="0.9 0.8"/>
<line x1="48.8" y1="143" x2="64" y2="143" stroke="#2a72d2" stroke-width="1.4" />
<line x1="48.8" y1="151" x2="64" y2="151" stroke="#4caf3c" stroke-width="1" stroke-dasharray="0.9 0.9"/>
<text x="65.3" y="144.87" font-size="5.2" text-anchor="start" font-family="'Liberation Sans', Arial, sans-serif" fill="#2a2a2a" stroke="#2a2a2a" stroke-width="0.2" textLength="8.4" lengthAdjust="spacingAndGlyphs" >Obs</text>
<text x="65.3" y="152.87" font-size="5.2" text-anchor="start" font-family="'Liberation Sans', Arial, sans-serif" fill="#2a2a2a" stroke="#2a2a2a" stroke-width="0.2" textLength="8.2" lengthAdjust="spacingAndGlyphs" >Sim</text>
<line x1="27.85" y1="376.5" x2="27.85" y2="287.6" stroke="#9a9a9a" stroke-width="1.9" />
<line x1="25.85" y1="376.5" x2="27.85" y2="376.5" stroke="#9a9a9a" stroke-width="0.9" />
<text x="24" y="378.16" font-size="6" text-anchor="end" font-family="'Liberation Sans', Arial, sans-serif" fill="#2b2b2b" stroke="#2b2b2b" stroke-width="0.28" textLength="2.9" lengthAdjust="spacingAndGlyphs" >0</text>
<line x1="25.85" y1="358.75" x2="27.85" y2="358.75" stroke="#9a9a9a" stroke-width="0.9" />
<text x="24" y="360.41" font-size="6" text-anchor="end" font-family="'Liberation Sans', Arial, sans-serif" fill="#2b2b2b" stroke="#2b2b2b" stroke-width="0.28" textLength="11.6" lengthAdjust="spacingAndGlyphs" >1000</text>
<line x1="25.85" y1="341" x2="27.85" y2="341" stroke="#9a9a9a" stroke-width="0.9" />
<text x="24" y="342.66" font-size="6" text-anchor="end" font-family="'Liberation Sans', Arial, sans-serif" fill="#2b2b2b" stroke="#2b2b2b" stroke-width="0.28" textLength="11.6" lengthAdjust="spacingAndGlyphs" >2000</text>
<line x1="25.85" y1="323.25" x2="27.85" y2="323.25" stroke="#9a9a9a" stroke-width="0.9" />
<text x="24" y="324.91" font-size="6" text-anchor="end" font-family="'Liberation Sans', Arial, sans-serif" fill="#2b2b2b" stroke="#2b2b2b" stroke-width="0.28" textLength="11.6" lengthAdjust="spacingAndGlyphs" >3000</text>
<line x1="25.85" y1="305.5" x2="27.85" y2="305.5" stroke="#9a9a9a" stroke-width="0.9" />
<text x="24" y="307.16" font-size="6" text-anchor="end" font-family="'Liberation Sans', Arial, sans-serif" fill="#2b2b2b" stroke="#2b2b2b" stroke-width="0.28" textLength="11.6" lengthAdjust="spacingAndGlyphs" >4000</text>
<line x1="25.85" y1="287.75" x2="27.85" y2="287.75" stroke="#9a9a9a" stroke-width="0.9" />
<text x="24" y="289.41" font-size="6" text-anchor="end" font-family="'Liberation Sans', Arial, sans-serif" fill="#2b2b2b" stroke="#2b2b2b" stroke-width="0.28" textLength="11.6" lengthAdjust="spacingAndGlyphs" >5000</text>
<line x1="26.9" y1="376.6" x2="173.5" y2="376.6" stroke="#9a9a9a" stroke-width="1.5" />
<line x1="27.5" y1="376.6" x2="27.5" y2="378.4" stroke="#9a9a9a" stroke-width="0.9" />
<line x1="56.56" y1="376.6" x2="56.56" y2="378.4" stroke="#9a9a9a" stroke-width="0.9" />
<line x1="85.62" y1="376.6" x2="85.62" y2="378.4" stroke="#9a9a9a" stroke-width="0.9" />
<line x1="114.68" y1="376.6" x2="114.68" y2="378.4" stroke="#9a9a9a" stroke-width="0.9" />
<line x1="143.74" y1="376.6" x2="143.74" y2="378.4" stroke="#9a9a9a" stroke-width="0.9" />
<line x1="172.8" y1="376.6" x2="172.8" y2="378.4" stroke="#9a9a9a" stroke-width="0.9" />
<text x="27.5" y="384.8" font-size="5.4" text-anchor="middle" font-family="'Liberation Sans', Arial, sans-serif" fill="#2b2b2b" stroke="#2b2b2b" stroke-width="0.28" textLength="21" lengthAdjust="spacingAndGlyphs" >1 January</text>
<text x="27.5" y="390.7" font-size="5.4" text-anchor="middle" font-family="'Liberation Sans', Arial, sans-serif" fill="#2b2b2b" stroke="#2b2b2b" stroke-width="0.28" textLength="10.6" lengthAdjust="spacingAndGlyphs" >2006</text>
<text x="56.56" y="384.8" font-size="5.4" text-anchor="middle" font-family="'Liberation Sans', Arial, sans-serif" fill="#2b2b2b" stroke="#2b2b2b" stroke-width="0.28" textLength="21" lengthAdjust="spacingAndGlyphs" >1 January</text>
<text x="56.56" y="390.7" font-size="5.4" text-anchor="middle" font-family="'Liberation Sans', Arial, sans-serif" fill="#2b2b2b" stroke="#2b2b2b" stroke-width="0.28" textLength="10.6" lengthAdjust="spacingAndGlyphs" >2007</text>
<text x="85.62" y="384.8" font-size="5.4" text-anchor="middle" font-family="'Liberation Sans', Arial, sans-serif" fill="#2b2b2b" stroke="#2b2b2b" stroke-width="0.28" textLength="21" lengthAdjust="spacingAndGlyphs" >1 January</text>
<text x="85.62" y="390.7" font-size="5.4" text-anchor="middle" font-family="'Liberation Sans', Arial, sans-serif" fill="#2b2b2b" stroke="#2b2b2b" stroke-width="0.28" textLength="10.6" lengthAdjust="spacingAndGlyphs" >2008</text>
<text x="114.68" y="384.8" font-size="5.4" text-anchor="middle" font-family="'Liberation Sans', Arial, sans-serif" fill="#2b2b2b" stroke="#2b2b2b" stroke-width="0.28" textLength="21" lengthAdjust="spacingAndGlyphs" >1 January</text>
<text x="114.68" y="390.7" font-size="5.4" text-anchor="middle" font-family="'Liberation Sans', Arial, sans-serif" fill="#2b2b2b" stroke="#2b2b2b" stroke-width="0.28" textLength="10.6" lengthAdjust="spacingAndGlyphs" >2009</text>
<text x="143.74" y="384.8" font-size="5.4" text-anchor="middle" font-family="'Liberation Sans', Arial, sans-serif" fill="#2b2b2b" stroke="#2b2b2b" stroke-width="0.28" textLength="21" lengthAdjust="spacingAndGlyphs" >1 January</text>
<text x="143.74" y="390.7" font-size="5.4" text-anchor="middle" font-family="'Liberation Sans', Arial, sans-serif" fill="#2b2b2b" stroke="#2b2b2b" stroke-width="0.28" textLength="10.6" lengthAdjust="spacingAndGlyphs" >2010</text>
<text x="172.8" y="384.8" font-size="5.4" text-anchor="middle" font-family="'Liberation Sans', Arial, sans-serif" fill="#2b2b2b" stroke="#2b2b2b" stroke-width="0.28" textLength="21" lengthAdjust="spacingAndGlyphs" >1 January</text>
<text x="172.8" y="390.7" font-size="5.4" text-anchor="middle" font-family="'Liberation Sans', Arial, sans-serif" fill="#2b2b2b" stroke="#2b2b2b" stroke-width="0.28" textLength="10.6" lengthAdjust="spacingAndGlyphs" >2011</text>
<text x="101" y="399.5" font-size="5.8" text-anchor="middle" font-family="'Liberation Sans', Arial, sans-serif" fill="#2b2b2b" stroke="#2b2b2b" stroke-width="0.28" textLength="9.3" lengthAdjust="spacingAndGlyphs" >Day</text>
<text x="93.9" y="291.8" font-size="7.5" text-anchor="middle" font-family="'Liberation Sans', Arial, sans-serif" fill="#1e1e1e" stroke="#1e1e1e" stroke-width="0.28" textLength="32" lengthAdjust="spacingAndGlyphs" >Calibration</text>
<text x="7.3" y="331.8" font-size="5.4" text-anchor="middle" font-family="'Liberation Sans', Arial, sans-serif" fill="#2b2b2b" stroke="#2b2b2b" stroke-width="0.28" textLength="46" lengthAdjust="spacingAndGlyphs" transform="rotate(-90 7.3 331.8)" dy="2">Streamflow (m³/s)</text>
<polyline points="28.1,374.4 28.47,374.3 28.84,374.25 29.21,374.36 29.59,374.27 29.96,374.23 30.33,374.36 30.7,374.56 31.07,374.52 31.44,374.5 31.81,374.29 32.19,374.41 32.56,374.31 32.93,374.27 33.3,374.4 33.67,374.06 34.03,373.92 34.4,374.02 34.77,373.8 35.13,373.61 35.5,373.3 35.88,373.06 36.25,372.41 36.62,372.09 37,371.8 37.37,371.5 37.73,371.19 38.1,370.7 38.6,371.68 39.1,372.3 39.47,370.57 39.83,368.18 40.2,366.5 40.9,360.1 41.25,355.47 41.6,350.6 42,354.9 42.4,365.4 42.8,359.1 43.4,366.5 43.75,365.03 44.1,363.3 44.55,365.4 45,367.5 45.4,364.65 45.8,362.3 46.15,363.33 46.5,364.4 46.9,360.32 47.3,355.9 47.9,360.1 48.3,364.64 48.7,368.6 49.2,367.03 49.7,365.4 50.07,366.66 50.43,368.46 50.8,369.6 51.2,370.44 51.6,371.4 52,372.17 52.4,372.8 52.75,373.15 53.1,373.46 53.45,373.89 53.8,374.17 54.15,374.42 54.5,374.9 54.86,374.89 55.21,375.13 55.57,374.91 55.93,374.97 56.29,375.23 56.64,375.17 57,375.3 57.36,375.28 57.72,375.22 58.08,375.14 58.43,375.34 58.79,375.03 59.15,375.07 59.51,374.96 59.87,375.08 60.22,374.92 60.58,374.91 60.94,375.02 61.3,374.9 61.69,374.76 62.07,374.78 62.46,374.84 62.84,374.46 63.23,374.38 63.61,374.37 64,374.4 64.5,373.46 65,372.3 65.4,372.23 65.8,371.92 66.2,371.84 66.6,371.8 67,371.36 67.4,371.23 67.8,370.74 68.2,370.7 68.57,369.42 68.93,368.15 69.3,366.5 69.65,362.15 70,357 70.6,346.4 71.1,357 71.7,362.3 72.05,359.79 72.4,354.9 73,362.3 73.4,364.84 73.8,368.1 74.15,365.55 74.5,363.3 74.87,359.89 75.23,356.9 75.6,351.7 76.1,344.3 76.7,336.9 77.2,345.4 77.7,351.7 78.05,355.91 78.4,359.1 78.77,361.59 79.13,363.13 79.5,365.4 79.85,366.51 80.2,368.01 80.55,369.16 80.9,370.7 81.3,371.29 81.7,372.22 82.1,372.57 82.5,373.3 82.86,373.32 83.21,373.57 83.57,373.85 83.93,374.33 84.29,374.39 84.64,374.59 85,374.9 85.37,374.65 85.73,374.88 86.1,374.57 86.47,374.39 86.83,374.23 87.2,374.3 87.56,374.13 87.92,374.17 88.28,374.37 88.63,374.16 88.99,374.12 89.35,374.3 89.71,374.2 90.07,374.49 90.42,374.15 90.78,374.31 91.14,374.41 91.5,374.3 91.9,374.06 92.3,374.1 92.7,373.69 93.1,373.39 93.5,373.26 93.9,372.9 94.3,372.9 94.65,372.51 95,372.08 95.35,372.04 95.7,371.67 96.05,371.15 96.4,370.8 96.78,369.81 97.15,369.21 97.53,368.47 97.9,367.9 98.37,366.77 98.83,365.84 99.3,365.1 99.65,364.69 100,363.41 100.35,362.62 100.7,362.3 101.07,361.26 101.43,360.26 101.8,358 102.15,356.85 102.5,355.9 103.1,350 103.5,331 104,349.5 104.5,360.8 104.95,359.83 105.4,356.6 105.85,358.3 106.3,359.4 106.8,358.11 107.3,354.5 107.75,355.09 108.2,356.6 108.7,360.41 109.2,363.7 109.67,365.86 110.13,367.71 110.6,369.3 110.95,370.01 111.3,370.98 111.65,371.85 112,372.5 112.37,372.78 112.73,373.07 113.1,373.16 113.47,373.43 113.83,373.66 114.2,373.8 114.56,373.71 114.91,373.97 115.27,373.99 115.62,373.63 115.98,373.99 116.33,373.99 116.69,373.87 117.04,373.61 117.4,373.96 117.76,373.65 118.11,373.99 118.47,373.87 118.82,373.62 119.18,373.66 119.53,373.86 119.89,373.83 120.24,373.9 120.6,373.8 121,373.58 121.4,372.88 121.8,372.37 122.2,372.4 122.6,371.56 123,371.4 123.37,370.54 123.73,369.04 124.1,368.2 124.53,369.98 124.97,371.54 125.4,373 125.8,370.54 126.2,367.7 126.6,365 127,358.2 127.4,350.6 127.8,349.31 128.2,342.7 128.55,348.03 128.9,353.8 129.35,349.86 129.8,337.9 130.2,333.86 130.6,329.9 131,336.21 131.4,337.9 131.77,339.93 132.13,346.39 132.5,345.8 132.9,347.87 133.3,350.48 133.7,350.6 134.1,340.87 134.5,331.5 134.9,341.01 135.3,341.1 135.75,342.81 136.2,345.8 136.6,353.03 137,353.8 137.37,355.47 137.73,358.74 138.1,360.2 138.53,362.58 138.97,364.32 139.4,366.6 139.8,367.63 140.2,368.99 140.6,370.46 141,371.4 141.45,371.75 141.9,372.5 142.28,372.55 142.65,373 143.03,373.34 143.4,373.41 143.78,373.6 144.15,374 144.53,374.18 144.9,374.3 145.28,374.13 145.66,374.45 146.04,374.18 146.42,374.22 146.8,374.43 147.18,374.27 147.56,374.42 147.94,374.17 148.32,374.45 148.7,374.3 149.09,373.95 149.47,373.71 149.86,373.62 150.25,373.33 150.64,373.19 151.03,373.13 151.41,372.82 151.8,372.5 152.16,371.89 152.52,371.65 152.88,371.38 153.24,370.97 153.6,370.6 154,370.91 154.4,370.99 154.8,371.2 155.18,370.11 155.56,369.33 155.94,368.83 156.32,367.67 156.7,366.9 157.1,364.64 157.5,362.49 157.9,359.5 158.6,349.6 159.2,332.3 159.8,344.6 160.4,352.1 160.85,356.6 161.3,360.7 162,352.1 162.45,354.11 162.9,353.3 163.5,357 163.95,356.86 164.4,355.8 165.1,353.3 165.55,358.25 166,360.7 166.4,362.6 166.8,365.12 167.2,366.9 167.58,367.95 167.96,368.69 168.34,369.45 168.72,370.14 169.1,371.2 169.5,371.65 169.9,371.77 170.3,372.23 170.7,372.3 171.1,372.6 171.5,373.1 171.88,373.33 172.26,373.99 172.64,374.11 173.02,374.77 173.4,375" fill="none" stroke="#2a72d2" stroke-width="1.2" stroke-linejoin="round"/>
<polyline points="28.1,375 28.62,374.89 29.14,375.06 29.66,375.04 30.18,375.13 30.7,374.93 31.22,374.93 31.74,375.07 32.26,375.05 32.78,374.94 33.3,375 33.85,374.93 34.4,374.72 34.95,374.71 35.5,374.5 36,374.05 36.5,373.74 37,373.5 37.55,373.14 38.1,372.5 38.63,371.48 39.17,370.46 39.7,369.6 40.6,364 41.5,355 42.2,352 42.8,347.5 43.4,352 43.9,354.9 44.8,362 45.6,360 46.5,359.1 47.4,362 48.3,366 49,367.66 49.7,369 50.25,370.31 50.8,371.5 51.33,372.2 51.87,373.18 52.4,374 52.92,374.43 53.45,374.65 53.98,375.17 54.5,375.5 55,375.42 55.5,375.5 56,375.45 56.5,375.5 57,375.6 57.54,375.72 58.08,375.55 58.61,375.69 59.15,375.53 59.69,375.57 60.22,375.63 60.76,375.56 61.3,375.5 61.84,375.33 62.38,375.4 62.92,375.36 63.46,375.17 64,375.2 64.5,374.68 65,374.52 65.5,374 66.05,373.75 66.6,373.5 67.13,372.89 67.67,372.48 68.2,372 68.75,369.87 69.3,368 70,356 70.6,342.7 71.1,350 71.7,355.9 72.5,360 73,362.21 73.5,364 74,362 74.5,360 75.05,354.12 75.6,349 76.15,342.23 76.7,334.8 77.3,342 78,350 78.55,354.67 79.1,360.1 79.7,362.9 80.3,366 80.9,368.27 81.5,371 82,372.09 82.5,372.86 83,374 83.5,374.33 84,374.53 84.5,374.97 85,375.3 85.55,375.28 86.1,375.16 86.65,375.06 87.2,375 87.74,375 88.28,374.98 88.81,375.03 89.35,374.88 89.89,374.99 90.42,374.92 90.96,375.11 91.5,375 92.06,374.93 92.62,374.47 93.18,374.29 93.74,374.26 94.3,374 94.83,373.65 95.35,373.08 95.88,372.95 96.4,372.5 96.9,371.84 97.4,370.8 97.9,370 98.6,368.42 99.3,367 99.9,365.04 100.5,363 101.4,360.8 101.9,359.25 102.4,357 103,345 103.5,316.3 104,340 104.6,350 105.5,352 106,353.27 106.5,355 107.15,354.21 107.8,353.8 108.3,356.63 108.8,360 109.3,363.34 109.8,366.5 110.5,368.73 111.2,371 111.85,372.16 112.5,373.5 113.07,373.8 113.63,374.02 114.2,374.5 114.73,374.44 115.27,374.65 115.8,374.53 116.33,374.43 116.87,374.63 117.4,374.46 117.93,374.42 118.47,374.36 119,374.39 119.53,374.41 120.07,374.42 120.6,374.5 121.2,374.12 121.8,373.42 122.4,372.91 123,372.5 123.65,371.29 124.3,370 124.95,370.19 125.6,370 126.2,365.88 126.8,362 127.3,357.23 127.8,352 128.7,345 129.6,329 130.5,300.4 131.1,315 131.7,321.9 132.5,330 133,333.86 133.5,338 134.05,340.56 134.6,343 135.1,345.1 135.6,347 136.1,348.96 136.6,350 137.1,353.26 137.6,356 138.1,359.01 138.6,362 139.2,365.21 139.8,368 140.4,369.94 141,372 141.56,372.36 142.11,372.96 142.67,373.22 143.23,373.69 143.79,373.94 144.34,374.53 144.9,374.8 145.44,374.83 145.99,374.73 146.53,374.93 147.07,374.79 147.61,374.75 148.16,374.73 148.7,374.8 149.22,374.46 149.73,374.27 150.25,374.21 150.77,373.82 151.28,373.64 151.8,373.5 152.4,372.98 153,372.52 153.6,372 154.2,371.7 154.8,371.5 155.43,370.46 156.07,369.05 156.7,368 157.3,364.92 157.9,362 158.6,354 159.4,342 159.8,335 160.5,345 161,343.42 161.5,342 162,339.86 162.5,338.5 163.2,345 164,352 164.8,358 165.5,362 166,366.9 166.6,367.56 167.2,368.5 167.83,369.44 168.47,370.8 169.1,371.8 169.7,372.12 170.3,372.76 170.9,373.05 171.5,373.6 172.13,374.21 172.77,374.78 173.4,375.3" fill="none" stroke="#4caf3c" stroke-width="1.1" stroke-linejoin="round" stroke-dasharray="1 0.9"/>
<line x1="36.7" y1="295.8" x2="52.3" y2="295.8" stroke="#2a72d2" stroke-width="1.5" />
<line x1="36.7" y1="303.3" x2="52.3" y2="303.3" stroke="#4caf3c" stroke-width="1.1" stroke-dasharray="1 1.1"/>
<text x="54" y="297.82" font-size="5.6" text-anchor="start" font-family="'Liberation Sans', Arial, sans-serif" fill="#2b2b2b" stroke="#2b2b2b" stroke-width="0.28" textLength="9" lengthAdjust="spacingAndGlyphs" >Obs</text>
<text x="54" y="305.32" font-size="5.6" text-anchor="start" font-family="'Liberation Sans', Arial, sans-serif" fill="#2b2b2b" stroke="#2b2b2b" stroke-width="0.28" textLength="9" lengthAdjust="spacingAndGlyphs" >Sim</text>
<line x1="221.4" y1="376.5" x2="221.4" y2="288.1" stroke="#9a9a9a" stroke-width="1.3" />
<line x1="219.4" y1="376.5" x2="221.4" y2="376.5" stroke="#9a9a9a" stroke-width="0.9" />
<text x="217.2" y="378.16" font-size="6" text-anchor="end" font-family="'Liberation Sans', Arial, sans-serif" fill="#2b2b2b" stroke="#2b2b2b" stroke-width="0.28" textLength="2.8" lengthAdjust="spacingAndGlyphs" >0</text>
<line x1="219.4" y1="354.4" x2="221.4" y2="354.4" stroke="#9a9a9a" stroke-width="0.9" />
<text x="217.2" y="356.06" font-size="6" text-anchor="end" font-family="'Liberation Sans', Arial, sans-serif" fill="#2b2b2b" stroke="#2b2b2b" stroke-width="0.28" textLength="11.2" lengthAdjust="spacingAndGlyphs" >1000</text>
<line x1="219.4" y1="332.3" x2="221.4" y2="332.3" stroke="#9a9a9a" stroke-width="0.9" />
<text x="217.2" y="333.96" font-size="6" text-anchor="end" font-family="'Liberation Sans', Arial, sans-serif" fill="#2b2b2b" stroke="#2b2b2b" stroke-width="0.28" textLength="11.2" lengthAdjust="spacingAndGlyphs" >2000</text>
<line x1="219.4" y1="310.2" x2="221.4" y2="310.2" stroke="#9a9a9a" stroke-width="0.9" />
<text x="217.2" y="311.86" font-size="6" text-anchor="end" font-family="'Liberation Sans', Arial, sans-serif" fill="#2b2b2b" stroke="#2b2b2b" stroke-width="0.28" textLength="11.2" lengthAdjust="spacingAndGlyphs" >3000</text>
<line x1="219.4" y1="288.1" x2="221.4" y2="288.1" stroke="#9a9a9a" stroke-width="0.9" />
<text x="217.2" y="289.76" font-size="6" text-anchor="end" font-family="'Liberation Sans', Arial, sans-serif" fill="#2b2b2b" stroke="#2b2b2b" stroke-width="0.28" textLength="11.2" lengthAdjust="spacingAndGlyphs" >4000</text>
<line x1="220.8" y1="376.6" x2="369.5" y2="376.6" stroke="#9a9a9a" stroke-width="1.5" />
<line x1="221.2" y1="376.6" x2="221.2" y2="378.4" stroke="#9a9a9a" stroke-width="0.9" />
<line x1="250.8" y1="376.6" x2="250.8" y2="378.4" stroke="#9a9a9a" stroke-width="0.9" />
<line x1="280.4" y1="376.6" x2="280.4" y2="378.4" stroke="#9a9a9a" stroke-width="0.9" />
<line x1="310" y1="376.6" x2="310" y2="378.4" stroke="#9a9a9a" stroke-width="0.9" />
<line x1="339.6" y1="376.6" x2="339.6" y2="378.4" stroke="#9a9a9a" stroke-width="0.9" />
<line x1="369.2" y1="376.6" x2="369.2" y2="378.4" stroke="#9a9a9a" stroke-width="0.9" />
<text x="221.2" y="384.8" font-size="5.4" text-anchor="middle" font-family="'Liberation Sans', Arial, sans-serif" fill="#2b2b2b" stroke="#2b2b2b" stroke-width="0.28" textLength="21" lengthAdjust="spacingAndGlyphs" >1 January</text>
<text x="221.2" y="390.7" font-size="5.4" text-anchor="middle" font-family="'Liberation Sans', Arial, sans-serif" fill="#2b2b2b" stroke="#2b2b2b" stroke-width="0.28" textLength="10.6" lengthAdjust="spacingAndGlyphs" >2011</text>
<text x="250.8" y="384.8" font-size="5.4" text-anchor="middle" font-family="'Liberation Sans', Arial, sans-serif" fill="#2b2b2b" stroke="#2b2b2b" stroke-width="0.28" textLength="21" lengthAdjust="spacingAndGlyphs" >1 January</text>
<text x="250.8" y="390.7" font-size="5.4" text-anchor="middle" font-family="'Liberation Sans', Arial, sans-serif" fill="#2b2b2b" stroke="#2b2b2b" stroke-width="0.28" textLength="10.6" lengthAdjust="spacingAndGlyphs" >2012</text>
<text x="280.4" y="384.8" font-size="5.4" text-anchor="middle" font-family="'Liberation Sans', Arial, sans-serif" fill="#2b2b2b" stroke="#2b2b2b" stroke-width="0.28" textLength="21" lengthAdjust="spacingAndGlyphs" >1 January</text>
<text x="280.4" y="390.7" font-size="5.4" text-anchor="middle" font-family="'Liberation Sans', Arial, sans-serif" fill="#2b2b2b" stroke="#2b2b2b" stroke-width="0.28" textLength="10.6" lengthAdjust="spacingAndGlyphs" >2013</text>
<text x="310" y="384.8" font-size="5.4" text-anchor="middle" font-family="'Liberation Sans', Arial, sans-serif" fill="#2b2b2b" stroke="#2b2b2b" stroke-width="0.28" textLength="21" lengthAdjust="spacingAndGlyphs" >1 January</text>
<text x="310" y="390.7" font-size="5.4" text-anchor="middle" font-family="'Liberation Sans', Arial, sans-serif" fill="#2b2b2b" stroke="#2b2b2b" stroke-width="0.28" textLength="10.6" lengthAdjust="spacingAndGlyphs" >2014</text>
<text x="339.6" y="384.8" font-size="5.4" text-anchor="middle" font-family="'Liberation Sans', Arial, sans-serif" fill="#2b2b2b" stroke="#2b2b2b" stroke-width="0.28" textLength="21" lengthAdjust="spacingAndGlyphs" >1 January</text>
<text x="339.6" y="390.7" font-size="5.4" text-anchor="middle" font-family="'Liberation Sans', Arial, sans-serif" fill="#2b2b2b" stroke="#2b2b2b" stroke-width="0.28" textLength="10.6" lengthAdjust="spacingAndGlyphs" >2015</text>
<text x="369.2" y="384.8" font-size="5.4" text-anchor="middle" font-family="'Liberation Sans', Arial, sans-serif" fill="#2b2b2b" stroke="#2b2b2b" stroke-width="0.28" textLength="21" lengthAdjust="spacingAndGlyphs" >1 January</text>
<text x="369.2" y="390.7" font-size="5.4" text-anchor="middle" font-family="'Liberation Sans', Arial, sans-serif" fill="#2b2b2b" stroke="#2b2b2b" stroke-width="0.28" textLength="10.6" lengthAdjust="spacingAndGlyphs" >2016</text>
<text x="295.9" y="399.5" font-size="5.8" text-anchor="middle" font-family="'Liberation Sans', Arial, sans-serif" fill="#2b2b2b" stroke="#2b2b2b" stroke-width="0.28" textLength="9.3" lengthAdjust="spacingAndGlyphs" >Day</text>
<text x="288.5" y="291.8" font-size="7.5" text-anchor="middle" font-family="'Liberation Sans', Arial, sans-serif" fill="#1e1e1e" stroke="#1e1e1e" stroke-width="0.28" textLength="34.7" lengthAdjust="spacingAndGlyphs" >Validation-1</text>
<text x="201.4" y="330.4" font-size="5.4" text-anchor="middle" font-family="'Liberation Sans', Arial, sans-serif" fill="#2b2b2b" stroke="#2b2b2b" stroke-width="0.28" textLength="47" lengthAdjust="spacingAndGlyphs" transform="rotate(-90 201.4 330.4)" dy="2">Streamflow (m³/s)</text>
<polyline points="222.2,374.2 222.57,374.25 222.94,374.29 223.31,374.32 223.68,374.37 224.05,374.29 224.42,374.37 224.79,374.02 225.16,374.19 225.53,374.37 225.9,374.2 226.26,374.09 226.61,374.02 226.97,373.53 227.33,373.5 227.69,373.23 228.04,373.19 228.4,373 228.78,371.94 229.15,370.54 229.53,369.54 229.9,368.6 230.6,371.7 230.97,370.66 231.35,370.09 231.72,369.09 232.1,368 232.5,366.13 232.9,364.96 233.3,363.1 233.8,359.65 234.3,356.9 234.75,349.51 235.2,339.6 235.8,347 236.4,338.4 237,333.5 237.4,324.8 237.9,359.4 238.5,344.6 239.1,340.9 239.5,361.9 240.1,347 240.45,354.47 240.8,363.1 241.4,348.3 242,361.9 242.6,348.3 243.2,349.5 243.8,356.9 244.23,360.01 244.67,361.58 245.1,364.3 245.46,365.9 245.82,367.04 246.18,367.89 246.54,369.53 246.9,370.5 247.26,370.96 247.61,371.48 247.97,371.68 248.33,372.48 248.69,372.8 249.04,373.36 249.4,373.6 249.8,373.91 250.2,373.82 250.6,373.99 251,374.2 251.35,374.07 251.7,374.06 252.05,374.03 252.4,374.12 252.75,374.24 253.1,374.01 253.45,374.27 253.8,374.14 254.15,374.13 254.5,374.32 254.85,374.19 255.2,374.13 255.55,374.19 255.9,374.2 256.26,374.01 256.61,373.47 256.97,373.59 257.33,372.91 257.69,372.95 258.04,372.73 258.4,372.3 258.78,371.71 259.16,371.72 259.54,371.15 259.92,370.9 260.3,370.5 260.7,368.57 261.1,366.93 261.5,365.6 261.9,362.83 262.3,361.19 262.7,358.1 263.13,357.57 263.57,358.12 264,355.7 264.4,353.01 264.8,350.7 265.2,349.44 265.6,344.6 266,340.01 266.4,334.7 267,327.3 267.7,318 268.3,328.5 268.9,317.4 269.5,328.5 270.1,342.1 270.55,348.54 271,350.7 271.5,353.57 272,355.7 272.5,358.25 273,359.4 273.38,361.66 273.75,362.76 274.12,364.83 274.5,366.8 274.86,367.85 275.22,369.01 275.58,369.65 275.94,370.95 276.3,371.7 276.66,371.99 277.01,372.15 277.37,372.43 277.73,372.64 278.09,372.87 278.44,373.18 278.8,373.6 279.17,373.78 279.53,374 279.9,373.76 280.27,373.82 280.63,374.29 281,374.2 281.38,374.21 281.75,374.16 282.13,374.1 282.51,374.24 282.88,374.33 283.26,374.18 283.64,374.17 284.02,374.03 284.39,374.36 284.77,374.02 285.15,374.2 285.52,374.33 285.9,374.2 286.26,373.88 286.61,373.95 286.97,373.87 287.33,373.57 287.69,373.47 288.04,373 288.4,373 288.78,372.47 289.16,371.83 289.54,371.67 289.92,370.89 290.3,370.5 290.7,368.92 291.1,367.73 291.5,366.11 291.9,364.3 292.3,361.28 292.7,356.9 293.3,345.8 294,345.2 294.6,361.9 295,363.74 295.4,365.6 295.75,356.55 296.1,347 296.8,331.6 297.4,332.2 298,343.3 298.7,356.9 299.1,360.77 299.5,364.3 300,362.37 300.5,360.6 300.95,358.55 301.4,356.3 301.8,359.59 302.2,361.9 302.6,363.8 303,365.05 303.4,366.47 303.8,368 304.16,368.51 304.51,368.99 304.87,369.71 305.23,370.61 305.59,371.26 305.94,371.62 306.3,372.3 306.66,372.67 307.01,372.91 307.37,373.11 307.73,373.34 308.09,373.62 308.44,373.7 308.8,374 309.17,374.11 309.53,373.98 309.9,374.09 310.27,374.24 310.63,374.24 311,374.2 311.38,374.13 311.76,374.39 312.15,374.29 312.53,374.27 312.91,374.05 313.29,374.27 313.67,374.17 314.05,374.34 314.44,374.27 314.82,374.41 315.2,374.3 315.56,374.18 315.93,374.07 316.29,373.71 316.65,373.66 317.01,373.53 317.38,373.39 317.74,373.01 318.1,372.9 318.5,372.64 318.9,372.25 319.3,371.75 319.7,371.49 320.1,371.07 320.5,370.42 320.9,370 321.25,369.43 321.6,368.63 321.95,368.46 322.3,367.95 322.65,367.07 323,366.5 323.5,363.81 324,360.8 324.7,342.5 325.2,335.4 325.6,359.4 326.1,342.5 326.6,360.8 327.1,339.6 327.7,356.6 328.3,312.7 329,312.7 329.7,342.5 330.1,348.96 330.5,349.5 331.2,313.4 331.7,312.97 332.2,313.4 332.9,335.4 333.25,345.65 333.6,349.5 334,353.01 334.4,356.95 334.8,359.4 335.23,361.77 335.65,363.76 336.07,365.94 336.5,367.9 336.85,368.44 337.2,369.37 337.55,370.37 337.9,371.31 338.25,371.93 338.6,372.9 339,373.1 339.4,373.19 339.8,373.05 340.2,373.35 340.6,373.37 341,373.6 341.36,373.5 341.71,373.63 342.07,373.79 342.42,373.83 342.78,373.92 343.13,373.95 343.49,374.21 343.84,374.26 344.2,374.4 344.59,374.37 344.97,374.29 345.36,374.08 345.74,374.27 346.13,373.84 346.51,373.93 346.9,373.9 347.27,373.13 347.65,372.51 348.02,371.69 348.4,371.2 348.8,371.25 349.2,370.88 349.6,370.58 350,370.7 350.37,370.06 350.73,369.06 351.1,368.6 351.6,367.58 352.1,366.5 352.47,366.02 352.83,365.83 353.2,365.4 353.57,364.69 353.93,363.53 354.3,362.2 354.7,355.63 355.1,346.4 355.5,331.1 356,351.7 356.7,364.4 357.4,368.6 357.8,367.1 358.2,365.4 358.6,364.8 359,364.4 359.7,361.7 360.15,362.75 360.6,364.4 361.1,363.93 361.6,363.3 361.97,364.75 362.33,366.43 362.7,367.5 363.1,368.59 363.5,369.16 363.9,369.82 364.3,370.7 364.72,371.32 365.14,371.29 365.56,371.77 365.98,372.41 366.4,372.8 366.75,373.03 367.1,373.01 367.45,373.41 367.8,373.7 368.15,373.67 368.5,373.9 368.9,374.12 369.3,374.29 369.7,374.57 370.1,374.9" fill="none" stroke="#2a72d2" stroke-width="1.2" stroke-linejoin="round"/>
<polyline points="222.2,374.8 222.73,374.94 223.26,374.66 223.79,374.87 224.31,374.7 224.84,374.94 225.37,374.66 225.9,374.8 226.4,374.75 226.9,374.54 227.4,374.43 227.9,374.32 228.4,374 228.9,373.08 229.4,372.27 229.9,371.5 230.6,372.5 231.1,371.75 231.6,370.74 232.1,370 232.7,367.38 233.3,365 233.8,361.3 234.3,358 235.2,345 235.8,342 236.4,340 237,334 237.4,323.6 237.9,340 238.5,338 239.1,345 239.7,350 240.3,346 241,352 241.6,345 242.3,350 243,345 243.8,352 244.45,357.31 245.1,362 245.7,364.73 246.3,367.16 246.9,369.5 247.4,370.24 247.9,371.39 248.4,372.08 248.9,372.84 249.4,373.8 249.93,374.05 250.47,374.31 251,374.6 251.54,374.5 252.09,374.66 252.63,374.62 253.18,374.71 253.72,374.84 254.27,374.78 254.81,374.73 255.36,374.89 255.9,374.8 256.52,374.63 257.15,374.15 257.77,373.97 258.4,373.5 259.03,372.15 259.67,371.02 260.3,370 260.9,366.82 261.5,364 262.1,360.34 262.7,356 263.35,355.43 264,354.5 264.8,349 265.6,342 266.4,334 267.2,326 267.9,322 268.3,324.8 268.9,330 269.5,332 270.1,340 271,348 271.5,351.23 272,354 272.5,356.31 273,359 273.5,361.33 274,363.92 274.5,366 275.1,367.63 275.7,369.49 276.3,371.5 276.8,371.83 277.3,372.49 277.8,373.12 278.3,373.52 278.8,374 279.35,374.12 279.9,374.3 280.45,374.35 281,374.6 281.54,374.76 282.09,374.6 282.63,374.59 283.18,374.63 283.72,374.81 284.27,374.68 284.81,374.88 285.36,374.73 285.9,374.8 286.4,374.62 286.9,374.35 287.4,374.45 287.9,374.25 288.4,374 289.03,373.32 289.67,372.53 290.3,372 290.83,370 291.37,367.94 291.9,366 292.7,358 293.3,348.3 294,350 294.6,358 295.4,360 296.1,345 296.8,335 297.7,326 298.3,338 298.9,350 299.5,358 300.2,368 300.9,362 301.6,357 302.4,362 303.1,365.45 303.8,368.5 304.3,369.56 304.8,370.33 305.3,370.99 305.8,371.76 306.3,372.8 306.8,373.24 307.3,373.55 307.8,373.59 308.3,374 308.8,374.3 309.35,374.37 309.9,374.6 310.45,374.39 311,374.6 311.52,374.49 312.05,374.75 312.57,374.7 313.1,374.69 313.62,374.81 314.15,374.78 314.68,374.83 315.2,374.8 315.78,374.53 316.36,374.27 316.94,374.05 317.52,373.95 318.1,373.8 318.66,373.39 319.22,372.84 319.78,372.36 320.34,372.01 320.9,371.5 321.42,370.46 321.95,369.3 322.48,368.03 323,367 323.5,362.72 324,358 324.7,340 325.4,320 326.3,309.9 326.9,318 327.6,330 328.3,318 329,325 329.7,335 330.5,333 331,330.96 331.5,328.3 332.2,330 332.9,340 333.6,353 334.2,357.83 334.8,362 335.37,364.58 335.93,366.4 336.5,369 337.02,370.2 337.55,371.19 338.08,372.33 338.6,373.5 339.2,373.68 339.8,373.73 340.4,373.95 341,374.2 341.53,374.45 342.07,374.35 342.6,374.63 343.13,374.66 343.67,374.64 344.2,374.8 344.74,374.69 345.28,374.71 345.82,374.68 346.36,374.51 346.9,374.5 347.4,373.69 347.9,373.05 348.4,372.5 348.93,372.14 349.47,371.59 350,371 350.55,369.32 351.1,368 351.6,366.93 352.1,365.5 352.65,364.8 353.2,364 353.75,361.88 354.3,360 354.8,345.91 355.3,331 356,350 356.7,362 357.4,369 358.2,371.7 359,366 359.7,360 360.5,356 361.1,355.4 361.8,360 362.7,366 363.23,367.3 363.77,368.81 364.3,370.5 364.82,371.01 365.35,371.74 365.88,372.24 366.4,372.8 366.92,373.14 367.45,373.64 367.98,373.82 368.5,374.2 369.03,374.62 369.57,374.72 370.1,375.2" fill="none" stroke="#4caf3c" stroke-width="1.1" stroke-linejoin="round" stroke-dasharray="1 0.9"/>
<line x1="236.4" y1="295.8" x2="251.4" y2="295.8" stroke="#2a72d2" stroke-width="1.5" />
<line x1="236.4" y1="303.3" x2="251.4" y2="303.3" stroke="#4caf3c" stroke-width="1.1" stroke-dasharray="1 1.1"/>
<text x="252.8" y="297.82" font-size="5.6" text-anchor="start" font-family="'Liberation Sans', Arial, sans-serif" fill="#2b2b2b" stroke="#2b2b2b" stroke-width="0.28" textLength="9" lengthAdjust="spacingAndGlyphs" >Obs</text>
<text x="252.8" y="305.32" font-size="5.6" text-anchor="start" font-family="'Liberation Sans', Arial, sans-serif" fill="#2b2b2b" stroke="#2b2b2b" stroke-width="0.28" textLength="9" lengthAdjust="spacingAndGlyphs" >Sim</text>
<line x1="27.9" y1="508" x2="27.9" y2="414" stroke="#9a9a9a" stroke-width="1.9" />
<line x1="25.9" y1="508" x2="27.9" y2="508" stroke="#9a9a9a" stroke-width="0.9" />
<text x="24" y="510.09" font-size="5.8" text-anchor="end" font-family="'Liberation Sans', Arial, sans-serif" fill="#2b2b2b" stroke="#2b2b2b" stroke-width="0.24" textLength="2.8" lengthAdjust="spacingAndGlyphs" >0</text>
<line x1="25.9" y1="489.2" x2="27.9" y2="489.2" stroke="#9a9a9a" stroke-width="0.9" />
<text x="24" y="491.29" font-size="5.8" text-anchor="end" font-family="'Liberation Sans', Arial, sans-serif" fill="#2b2b2b" stroke="#2b2b2b" stroke-width="0.24" textLength="11.2" lengthAdjust="spacingAndGlyphs" >1000</text>
<line x1="25.9" y1="470.4" x2="27.9" y2="470.4" stroke="#9a9a9a" stroke-width="0.9" />
<text x="24" y="472.49" font-size="5.8" text-anchor="end" font-family="'Liberation Sans', Arial, sans-serif" fill="#2b2b2b" stroke="#2b2b2b" stroke-width="0.24" textLength="11.2" lengthAdjust="spacingAndGlyphs" >2000</text>
<line x1="25.9" y1="451.6" x2="27.9" y2="451.6" stroke="#9a9a9a" stroke-width="0.9" />
<text x="24" y="453.69" font-size="5.8" text-anchor="end" font-family="'Liberation Sans', Arial, sans-serif" fill="#2b2b2b" stroke="#2b2b2b" stroke-width="0.24" textLength="11.2" lengthAdjust="spacingAndGlyphs" >3000</text>
<line x1="25.9" y1="432.8" x2="27.9" y2="432.8" stroke="#9a9a9a" stroke-width="0.9" />
<text x="24" y="434.89" font-size="5.8" text-anchor="end" font-family="'Liberation Sans', Arial, sans-serif" fill="#2b2b2b" stroke="#2b2b2b" stroke-width="0.24" textLength="11.2" lengthAdjust="spacingAndGlyphs" >4000</text>
<line x1="25.9" y1="414" x2="27.9" y2="414" stroke="#9a9a9a" stroke-width="0.9" />
<text x="24" y="416.09" font-size="5.8" text-anchor="end" font-family="'Liberation Sans', Arial, sans-serif" fill="#2b2b2b" stroke="#2b2b2b" stroke-width="0.24" textLength="11.2" lengthAdjust="spacingAndGlyphs" >5000</text>
<line x1="27" y1="508" x2="363.8" y2="508" stroke="#9a9a9a" stroke-width="1.5" />
<line x1="27.5" y1="508" x2="27.5" y2="509.8" stroke="#9a9a9a" stroke-width="0.9" />
<line x1="81.38" y1="508" x2="81.38" y2="509.8" stroke="#9a9a9a" stroke-width="0.9" />
<line x1="135.26" y1="508" x2="135.26" y2="509.8" stroke="#9a9a9a" stroke-width="0.9" />
<line x1="189.14" y1="508" x2="189.14" y2="509.8" stroke="#9a9a9a" stroke-width="0.9" />
<line x1="243.02" y1="508" x2="243.02" y2="509.8" stroke="#9a9a9a" stroke-width="0.9" />
<line x1="296.9" y1="508" x2="296.9" y2="509.8" stroke="#9a9a9a" stroke-width="0.9" />
<line x1="350.78" y1="508" x2="350.78" y2="509.8" stroke="#9a9a9a" stroke-width="0.9" />
<text x="27.5" y="516.9" font-size="5.2" text-anchor="middle" font-family="'Liberation Sans', Arial, sans-serif" fill="#2b2b2b" stroke="#2b2b2b" stroke-width="0.24" textLength="35" lengthAdjust="spacingAndGlyphs" >1 January 1981</text>
<text x="81.38" y="516.9" font-size="5.2" text-anchor="middle" font-family="'Liberation Sans', Arial, sans-serif" fill="#2b2b2b" stroke="#2b2b2b" stroke-width="0.24" textLength="35" lengthAdjust="spacingAndGlyphs" >1 January 1985</text>
<text x="135.26" y="516.9" font-size="5.2" text-anchor="middle" font-family="'Liberation Sans', Arial, sans-serif" fill="#2b2b2b" stroke="#2b2b2b" stroke-width="0.24" textLength="35" lengthAdjust="spacingAndGlyphs" >1 January 1989</text>
<text x="189.14" y="516.9" font-size="5.2" text-anchor="middle" font-family="'Liberation Sans', Arial, sans-serif" fill="#2b2b2b" stroke="#2b2b2b" stroke-width="0.24" textLength="35" lengthAdjust="spacingAndGlyphs" >1 January 1993</text>
<text x="243.02" y="516.9" font-size="5.2" text-anchor="middle" font-family="'Liberation Sans', Arial, sans-serif" fill="#2b2b2b" stroke="#2b2b2b" stroke-width="0.24" textLength="35" lengthAdjust="spacingAndGlyphs" >1 January 1997</text>
<text x="296.9" y="516.9" font-size="5.2" text-anchor="middle" font-family="'Liberation Sans', Arial, sans-serif" fill="#2b2b2b" stroke="#2b2b2b" stroke-width="0.24" textLength="35" lengthAdjust="spacingAndGlyphs" >1 January 2001</text>
<text x="350.78" y="516.9" font-size="5.2" text-anchor="middle" font-family="'Liberation Sans', Arial, sans-serif" fill="#2b2b2b" stroke="#2b2b2b" stroke-width="0.24" textLength="35" lengthAdjust="spacingAndGlyphs" >1 January 2005</text>
<text x="195.9" y="524.8" font-size="5.4" text-anchor="middle" font-family="'Liberation Sans', Arial, sans-serif" fill="#2b2b2b" stroke="#2b2b2b" stroke-width="0.24" textLength="9.5" lengthAdjust="spacingAndGlyphs" >Day</text>
<text x="192.3" y="417.7" font-size="6.6" text-anchor="middle" font-family="'Liberation Sans', Arial, sans-serif" fill="#1e1e1e" stroke="#1e1e1e" stroke-width="0.24" textLength="34.8" lengthAdjust="spacingAndGlyphs" >Validation-2</text>
<text x="7.3" y="460.8" font-size="5.4" text-anchor="middle" font-family="'Liberation Sans', Arial, sans-serif" fill="#2b2b2b" stroke="#2b2b2b" stroke-width="0.24" textLength="46.6" lengthAdjust="spacingAndGlyphs" transform="rotate(-90 7.3 460.8)" dy="2">Streamflow (m³/s)</text>
<text x="193" y="544.4" font-size="8.6" text-anchor="middle" font-family="'Liberation Serif', 'Times New Roman', serif" fill="#1a1a1a" font-weight="bold" stroke="#1a1a1a" stroke-width="0.24" textLength="12.4" lengthAdjust="spacingAndGlyphs" >(d)</text>
<polyline points="27.5,506.19 27.75,505.96 28,506.33 28.25,505.9 28.5,505.8 28.75,505.57 29,506.11 29.25,505.97 29.5,505.35 29.75,505.9 30,505.94 30.25,505.23 30.5,505.32 30.75,505.22 31,504.3 31.25,504.97 31.5,503.41 31.75,503.02 32,502.59 32.25,502.03 32.5,500.64 32.75,499.39 33,497.43 33.25,494.87 33.5,492.84 33.75,487.38 34,479.81 34.23,470.73 34.25,471.26 34.5,472.44 34.75,466.99 35,457.76 35.04,457.76 35.25,463.05 35.5,471.92 35.75,475.04 36,478.91 36.25,483.37 36.5,482.42 36.75,479.21 37,470.85 37.25,463.42 37.33,457.83 37.5,464.61 37.75,479.75 38,487.85 38.25,492.39 38.5,495.52 38.75,498.83 39,500.83 39.25,500.94 39.5,503.02 39.75,503.75 40,503.99 40.25,504.44 40.5,505.26 40.75,505.39 41,505.59 41.25,505.48 41.5,505.11 41.75,505.05 42,505.35 42.25,505.26 42.5,505.96 42.75,505.76 43,505.5 43.25,504.96 43.5,504.92 43.75,504.55 44,504.89 44.25,504.38 44.5,504.15 44.75,503.56 45,503.27 45.25,502.63 45.5,501.79 45.75,500.54 46,498.63 46.25,497.18 46.5,492.96 46.75,488.25 47,482.98 47.03,479.25 47.25,481.99 47.5,479.08 47.75,471.63 48,462.67 48.11,460.03 48.25,461.39 48.5,473.07 48.75,478.08 49,481.9 49.25,484.23 49.5,488.08 49.55,487.93 49.75,491.01 50,490.17 50.25,489.71 50.5,488.95 50.75,485.18 50.94,479.48 51,483.31 51.25,487.6 51.5,494.46 51.75,497.87 52,499.57 52.25,501.08 52.5,502.35 52.75,502.95 53,504.38 53.25,504.2 53.5,504.51 53.75,504.25 54,505.28 54.25,505.17 54.5,505.54 54.75,505.78 55,505.65 55.25,505.38 55.5,505.76 55.75,505.62 56,506.05 56.25,505.48 56.5,505.48 56.75,504.91 57,505.43 57.25,505.15 57.5,504.79 57.75,504.36 58,504.58 58.25,504.12 58.5,503.91 58.75,503.22 59,502.14 59.25,500.75 59.5,500.68 59.75,499.99 60,498.21 60.1,496.08 60.25,496.52 60.5,495.41 60.75,492.21 61,491.03 61.25,486.57 61.5,479.02 61.75,472.01 61.98,462.94 62,462.94 62.25,470.79 62.5,472.57 62.75,475.35 63,479.25 63.25,478.12 63.33,477.41 63.5,482.08 63.75,487.5 64,492.85 64.25,494.51 64.5,496.75 64.75,498.58 64.75,497.94 65,499.34 65.25,501.19 65.5,501.69 65.75,502.45 66,502.91 66.25,504.11 66.5,504.21 66.75,504.97 67,504.24 67.25,504.37 67.5,505.28 67.75,505.32 68,505.97 68.25,505.78 68.5,505.76 68.75,505.43 69,506.2 69.25,506.02 69.5,505.61 69.75,505.62 70,505.8 70.25,505.85 70.5,504.92 70.75,504.86 71,504.66 71.25,504.72 71.5,504.02 71.75,504.27 72,503.49 72.25,503.45 72.5,502.36 72.75,502.04 73,499.41 73.25,499.43 73.32,498.71 73.5,496.67 73.75,494.36 74,493.06 74.25,489.64 74.5,482.66 74.64,479.85 74.75,482.13 75,480.49 75.25,478.72 75.5,471.18 75.75,463.26 75.86,460.83 76,465.62 76.25,473.58 76.5,484.3 76.75,484.21 77,491.18 77.25,492.59 77.5,493.6 77.52,493.41 77.75,497.07 78,497.41 78.25,499.4 78.5,500.58 78.75,501.7 79,502.51 79.25,502.5 79.5,503.96 79.75,504.28 80,503.75 80.25,504.69 80.5,504.69 80.75,504.4 81,505.01 81.25,505.06 81.5,505.84 81.75,505.77 82,505.67 82.25,505.49 82.5,506.3 82.75,505.7 83,505.74 83.25,505.6 83.5,505.2 83.75,505.83 84,505.8 84.25,505.85 84.5,505.56 84.75,505.39 85,505.14 85.25,504.02 85.5,504.8 85.75,504.02 86,503.44 86.25,502.99 86.5,502.28 86.75,501.59 87,500.19 87.2,498.89 87.25,499.94 87.5,498.79 87.75,498.12 88,496.1 88.25,495.85 88.5,493.89 88.75,491.74 88.79,490.73 89,489.81 89.25,488.48 89.5,487.82 89.75,482.72 90,481.8 90.25,477.91 90.27,478.16 90.5,482.95 90.75,489.25 91,492.15 91.25,495.56 91.5,497.32 91.75,497.87 92,498.67 92.02,498.92 92.25,499.56 92.5,501.94 92.75,502.64 93,503.08 93.25,502.54 93.5,504.47 93.75,504.22 94,504.36 94.25,504.98 94.5,504.82 94.75,505.47 95,504.97 95.25,505.12 95.5,505.04 95.75,505.67 96,505.13 96.25,505.62 96.5,504.75 96.75,505.28 97,504.95 97.25,504.6 97.5,504.63 97.75,504.29 98,503.84 98.25,503.03 98.5,502.41 98.75,502.09 99,500.85 99.25,500.17 99.5,498.32 99.61,497.73 99.75,497.72 100,495.47 100.25,493.91 100.5,491.92 100.75,486.9 101,481.85 101.25,476.93 101.5,462.75 101.58,462.66 101.75,467.42 102,476.33 102.25,479.72 102.5,482.17 102.75,481.9 102.93,479.39 103,482.45 103.25,487.73 103.5,492.47 103.75,494.51 104,495.87 104.24,497.78 104.25,498.58 104.5,499.69 104.75,500.3 105,501.42 105.25,502.7 105.5,503.38 105.75,504.08 106,504.92 106.25,504.21 106.5,504.7 106.75,504.72 107,504.73 107.25,505.27 107.5,505.36 107.75,505.62 108,505.86 108.25,505.91 108.5,505.26 108.75,505.58 109,505.16 109.25,506.05 109.5,505.92 109.75,505.14 110,505.24 110.25,504.73 110.5,504.99 110.75,505.09 111,504.99 111.25,504.17 111.5,504.32 111.75,504.14 112,502.94 112.25,502.61 112.5,502.81 112.75,501 113,501.1 113.25,499.56 113.5,499.6 113.75,498.01 114,495.8 114.25,495.19 114.5,493.12 114.75,486.99 115,485.35 115.25,474.86 115.5,468 115.59,464.09 115.75,467.87 116,474.57 116.25,476.12 116.5,478.55 116.67,479.39 116.75,481.87 117,485.63 117.25,489.92 117.5,492.8 117.75,495.75 118,497.24 118.25,499.23 118.27,499.39 118.5,500.77 118.75,500.81 119,502.47 119.25,502.69 119.5,503.4 119.75,503.73 120,504.03 120.25,504.96 120.5,505.24 120.75,505.05 121,505.47 121.25,505.28 121.5,505.42 121.75,505.75 122,505.34 122.25,505.37 122.5,505.39 122.75,505.34 123,506.22 123.25,505.22 123.5,505.26 123.75,505.34 124,505.73 124.25,504.92 124.5,505.33 124.75,504.47 125,504.47 125.25,504.89 125.5,504.16 125.75,504.05 126,503.5 126.25,502.19 126.5,502.35 126.75,501.41 127,501.4 127.25,499.23 127.3,498.5 127.5,498.47 127.75,497.03 128,496.61 128.25,493.72 128.5,491.82 128.75,487.52 129,481.25 129.2,477.89 129.25,478.3 129.5,477.89 129.75,480.06 130,482.46 130.14,480.49 130.25,484.55 130.5,487.97 130.75,492.05 131,494.49 131.25,495.59 131.5,498.12 131.6,498.47 131.75,498.53 132,499.35 132.25,500.9 132.5,501.91 132.75,503.25 133,503.23 133.25,504.03 133.5,503.95 133.75,504.97 134,504.15 134.25,504.72 134.5,504.57 134.75,505.36 135,505.57 135.25,505.37 135.5,505.85 135.75,505.51 136,505.09 136.25,504.81 136.5,505.09 136.75,505 137,505.35 137.25,504.22 137.5,504.72 137.75,504.08 138,504.25 138.25,504.04 138.5,502.64 138.75,502.04 139,500.88 139.25,499.81 139.5,497.66 139.75,496.88 140,494.61 140.04,492.03 140.25,489.91 140.5,487.04 140.75,477.84 141,471 141.25,458.96 141.5,445.42 141.59,433.41 141.75,442.06 142,456.12 142.25,462.43 142.5,462.68 142.75,459.01 143,451.82 143.07,452.31 143.25,462.43 143.5,468.29 143.75,474.52 144,470.95 144.15,470.51 144.25,473.98 144.5,483.1 144.75,489.64 145,494 145.25,497.33 145.5,499.17 145.75,500.22 146,502.46 146.25,502.2 146.5,502.96 146.75,504.48 147,505.19 147.25,504.37 147.5,504.76 147.75,504.95 148,505.11 148.25,505.32 148.5,505.88 148.75,505.85 149,505.48 149.25,505.31 149.5,505.94 149.75,505.73 150,505.02 150.25,505.63 150.5,505.37 150.75,505 151,505.34 151.25,505.33 151.5,505.43 151.75,504.43 152,504.34 152.25,503.69 152.5,502.83 152.75,502.4 153,501.64 153.25,501.14 153.47,499.29 153.5,499.18 153.75,498.93 154,497 154.25,496.72 154.5,494.29 154.75,490.4 155,484.03 155.06,482.75 155.25,485.13 155.5,484.59 155.75,477.9 156,476.5 156,475.59 156.25,480.32 156.5,483.78 156.75,487.75 157,491.85 157.25,492.75 157.36,491.86 157.5,494.46 157.75,494.77 158,497.16 158.25,498.38 158.5,498.8 158.75,499.94 158.78,500.6 159,502.1 159.25,501.88 159.5,503.3 159.75,503.76 160,503.23 160.25,503.78 160.5,505.19 160.75,504.38 161,504.94 161.25,504.96 161.5,505.98 161.75,505.3 162,505.46 162.25,505.89 162.5,506.21 162.75,505.68 163,505.39 163.25,506.09 163.5,506.21 163.75,505.23 164,505.42 164.25,505.67 164.5,505.03 164.75,505.09 165,505.01 165.25,504.54 165.5,504.74 165.75,504.5 166,504.2 166.25,503.89 166.5,503.43 166.75,501.97 167,501.54 167.25,500.57 167.5,499.4 167.66,499.52 167.75,497.76 168,498.71 168.25,497.15 168.5,494.23 168.75,492.81 169,490.08 169.25,483.73 169.5,479.15 169.75,472.38 170,462.12 170.15,454.5 170.25,457.92 170.5,469.76 170.75,476.82 171,480.35 171.25,478.61 171.36,480.15 171.5,484.26 171.75,487.58 172,492.88 172.25,495.73 172.5,498.25 172.69,497.97 172.75,498.5 173,500.6 173.25,501.49 173.5,502.35 173.75,503.14 174,503.68 174.25,504.63 174.5,504.13 174.75,504.62 175,504.4 175.25,504.6 175.5,505.06 175.75,505.95 176,505 176.25,505.17 176.5,505.34 176.75,505.93 177,505.87 177.25,505.93 177.5,505.1 177.75,505.87 178,505.56 178.25,505.01 178.5,504.24 178.75,504.95 179,504.45 179.25,504.31 179.5,503.37 179.75,502.93 180,501.87 180.25,501.98 180.5,500.23 180.75,498.57 180.84,498.13 181,496.49 181.25,496.19 181.5,495.2 181.75,490.78 182,487.06 182.25,483.35 182.5,474.45 182.67,469.46 182.75,469.97 183,469.46 183.21,469.46 183.25,469.46 183.5,476.5 183.75,482.81 184,487.2 184.25,488.94 184.5,489.7 184.75,490.31 185,490.23 185.23,487.69 185.25,487.82 185.5,494.26 185.75,496.51 186,498.96 186.25,500.65 186.5,501.52 186.75,502 187,503.4 187.25,504.14 187.5,503.75 187.75,504.21 188,505.25 188.25,505.52 188.5,505.28 188.75,505.67 189,505.43 189.25,505.08 189.5,506.07 189.75,505.5 190,505.46 190.25,505.81 190.5,505.47 190.75,505.45 191,505.75 191.25,505.15 191.5,505.19 191.75,505.25 192,504.81 192.25,504.86 192.5,504.75 192.75,503.47 193,503.37 193.25,502.67 193.5,501.85 193.75,500.72 194,500.15 194.25,497.7 194.29,497.27 194.5,495.68 194.75,493.24 195,488.44 195.25,483.34 195.5,471.92 195.61,465.79 195.75,472.3 196,475.59 196.25,472.31 196.5,472.57 196.75,464.6 197,454.51 197.09,454.17 197.25,459.3 197.5,473.53 197.75,480.23 198,487.51 198.25,492.45 198.5,494.16 198.75,495.78 199,496.81 199.25,497.9 199.28,498.18 199.5,499.09 199.75,500.72 200,502.19 200.25,502.27 200.5,503.51 200.75,503.61 201,504.14 201.25,504.69 201.5,504.71 201.75,504.97 202,505.03 202.25,504.8 202.5,505.1 202.75,504.99 203,505.43 203.25,505.76 203.5,505.62 203.75,505.69 204,505.79 204.25,505.64 204.5,505.58 204.75,505.18 205,505.13 205.25,505.46 205.5,504.46 205.75,505.21 206,504.52 206.25,503.83 206.5,503.38 206.75,503.03 207,503.08 207.25,501.91 207.5,500.6 207.75,497.72 208,495.31 208.25,492.43 208.4,489.4 208.5,489.59 208.75,492.97 209,493.15 209.25,492.43 209.5,492.07 209.75,492.18 210,490.32 210.11,489.4 210.25,491.7 210.5,494.38 210.75,492.29 211,492.49 211.25,492.79 211.5,490.33 211.75,494.74 212,497.44 212.25,500.06 212.5,500.87 212.75,502.07 213,503.27 213.25,502.44 213.5,503.83 213.75,503.53 214,505.16 214.25,504.69 214.5,504.5 214.75,505.18 215,505.22 215.25,505.38 215.5,505.44 215.75,506 216,505.95 216.25,505.34 216.5,505.62 216.75,505.81 217,505.47 217.25,505.46 217.5,505.81 217.75,506.14 218,505.77 218.25,505.26 218.5,506.16 218.75,505.59 219,505.66 219.25,504.98 219.5,505.87 219.75,505.01 220,505.17 220.25,504.16 220.5,504.03 220.75,503.54 221,503.54 221.25,502.66 221.5,503.02 221.75,500.77 221.76,500.76 222,500.55 222.25,500.03 222.5,497.84 222.75,497.34 223,495.87 223.08,493.44 223.25,494.26 223.5,493.8 223.75,493.38 224,490.34 224.25,490.38 224.5,487.26 224.75,487.49 224.97,483.51 225,485.3 225.25,489.73 225.5,491.93 225.75,493.74 226,497.4 226.25,498.98 226.49,497.57 226.5,499.21 226.75,500.61 227,501.57 227.25,502.52 227.5,503.21 227.75,503.82 228,503.62 228.25,504.92 228.5,504.54 228.75,504.98 229,505.62 229.25,504.92 229.5,505 229.75,505.23 230,505.6 230.25,505.76 230.5,505.35 230.75,505.57 231,505.47 231.25,505.36 231.5,505.86 231.75,504.89 232,505.03 232.25,505.31 232.5,505.04 232.75,504.92 233,503.88 233.25,503.8 233.5,503.38 233.75,503.3 234,502.94 234.25,501.11 234.45,500.84 234.5,500.85 234.75,500.86 235,499.8 235.25,498.33 235.5,498.25 235.75,497.51 236,495.49 236.25,494.42 236.5,489.29 236.75,485.85 237,482.03 237.09,480 237.25,483.8 237.5,487 237.75,487.31 238,488.05 238.25,489.27 238.44,486.99 238.5,488.17 238.75,492.15 239,495.67 239.25,497.55 239.5,498.89 239.75,500.75 239.77,500.51 240,501.64 240.25,502.5 240.5,502.89 240.75,503.71 241,503.61 241.25,504.99 241.5,504.39 241.75,505.56 242,505.08 242.25,505.25 242.5,504.95 242.75,505.56 243,505.56 243.25,505.63 243.5,505.94 243.75,505.29 244,505.67 244.25,505.73 244.5,505.22 244.75,505.21 245,505.05 245.25,505.2 245.5,504.55 245.75,504.52 246,504.33 246.25,504.75 246.5,503.45 246.75,503.07 247,502.51 247.25,500.62 247.5,500.48 247.75,499.47 247.88,498.1 248,496.96 248.25,495.63 248.5,495.23 248.75,491.05 249,484.69 249.25,479.48 249.49,469.84 249.5,470.33 249.75,479.46 250,480.59 250.25,482.47 250.5,487.65 250.75,488.27 251,490.82 251.1,489.17 251.25,490.86 251.5,494.54 251.75,496.78 252,498.74 252.25,499.94 252.5,499.82 252.57,500.9 252.75,501.56 253,502.09 253.25,502.49 253.5,503.79 253.75,503.63 254,503.89 254.25,504.24 254.5,504.71 254.75,505.08 255,505.66 255.25,505.87 255.5,505.71 255.75,505.17 256,505.34 256.25,505.71 256.5,505.72 256.75,505.35 257,506.14 257.25,505.59 257.5,505.78 257.75,506.34 258,505.32 258.25,505.39 258.5,505.28 258.75,505.06 259,504.87 259.25,503.97 259.5,503.9 259.75,502.78 260,502.49 260.25,500.07 260.5,498.32 260.75,493.73 260.8,492.58 261,494.93 261.25,496.99 261.5,497.99 261.75,499.3 262,498.23 262.21,497.59 262.25,498.99 262.5,496.94 262.75,496.21 263,495.1 263.25,494.81 263.5,494.91 263.75,494.19 264,491.35 264.25,490.4 264.5,485.61 264.75,484.37 264.84,484.28 265,485.24 265.25,490.47 265.5,492.3 265.75,495.62 266,496.49 266.25,498.04 266.41,497.13 266.5,498.76 266.75,499.86 267,500.84 267.25,502.39 267.5,503.12 267.75,503.13 268,503.72 268.25,504.05 268.5,504.57 268.75,504.14 269,504.41 269.25,504.52 269.5,505.05 269.75,504.85 270,505.57 270.25,504.9 270.5,505.86 270.75,505.71 271,504.93 271.25,505.34 271.5,505.34 271.75,505.2 272,504.6 272.25,505.31 272.5,504.57 272.75,504.46 273,504.1 273.25,503.03 273.5,503.45 273.75,502.08 274,501.3 274.25,501.4 274.44,499.99 274.5,498.62 274.75,497.78 275,499.1 275.25,497.7 275.5,495.36 275.75,495.58 276,492.14 276.25,490.37 276.5,486.24 276.75,484.73 276.96,480.96 277,480.96 277.25,482.37 277.5,485.41 277.75,484.4 278,486.56 278.04,482.38 278.25,488.49 278.5,490.95 278.75,495.52 279,496.64 279.25,497.64 279.38,499.3 279.5,498.67 279.75,500.92 280,502.48 280.25,502.21 280.5,503.5 280.75,503.68 281,504.37 281.25,504.26 281.5,504.22 281.75,504.78 282,505.4 282.25,505.6 282.5,505.35 282.75,505.92 283,505.65 283.25,506 283.5,505.89 283.75,506.08 284,506.04 284.25,505.29 284.5,505.74 284.75,505.67 285,504.89 285.25,505.47 285.5,504.77 285.75,504.01 286,503.84 286.25,503.39 286.5,503.21 286.75,502.57 287,501.35 287.25,499.78 287.5,498.07 287.65,496.99 287.75,496.73 288,494.96 288.25,493.63 288.5,490.33 288.75,485.47 289,475.05 289.22,466.06 289.25,468.99 289.5,475.5 289.75,478.75 290,480.32 290.25,486.16 290.5,488.05 290.75,487.33 291,488.15 291.02,490.31 291.25,489.77 291.5,490.73 291.75,490.03 292,490.43 292.25,484.65 292.45,482.03 292.5,481.43 292.75,490.91 293,494.09 293.25,497.24 293.5,500.47 293.75,500.62 294,502.33 294.25,503.92 294.5,504.14 294.75,504.16 295,504.65 295.25,504.64 295.5,504.86 295.75,505.23 296,505.65 296.25,505.77 296.5,505.37 296.75,505.64 297,506.08 297.25,505.84 297.5,506.09 297.75,505.32 298,506.17 298.25,504.97 298.5,504.89 298.75,505.25 299,505.44 299.25,504.49 299.5,504.77 299.75,504.91 300,504.36 300.25,503.34 300.5,502.96 300.75,502.49 301,501.61 301.25,500.02 301.39,498.93 301.5,499.16 301.75,498.74 302,495.52 302.25,493.25 302.5,490.33 302.75,483.3 303,478.04 303.25,465.48 303.37,463.44 303.5,467.83 303.75,470.21 304,475.98 304.25,475.42 304.5,477.43 304.71,477.94 304.75,480.17 305,485.96 305.25,489.67 305.5,492.73 305.75,495.98 306,496.31 306.25,497.66 306.39,498.81 306.5,499.21 306.75,501.5 307,502.15 307.25,502.54 307.5,503.8 307.75,503.63 308,504.31 308.25,504.22 308.5,505.04 308.75,505.28 309,505.05 309.25,505.26 309.5,504.74 309.75,505.46 310,505.09 310.25,506.09 310.5,505.42 310.75,505.55 311,506.13 311.25,505.53 311.5,505.4 311.75,505.9 312,505.82 312.25,505.12 312.5,505.26 312.75,504.95 313,504.09 313.25,504.04 313.5,503.32 313.75,502.73 314,503.45 314.25,501.96 314.5,500.19 314.72,498.69 314.75,500.03 315,498.91 315.25,497.65 315.5,498.23 315.75,496.57 316,493.86 316.25,491 316.5,484.87 316.57,482.11 316.75,483.77 317,487.58 317.25,489.38 317.5,488.36 317.75,491.61 318,491.82 318.25,488.27 318.5,490.38 318.59,489.25 318.75,492.82 319,494.92 319.25,496.21 319.5,498.23 319.75,499.51 319.99,500.21 320,500.21 320.25,501.64 320.5,501.95 320.75,503.69 321,503.27 321.25,503.81 321.5,503.94 321.75,504.31 322,504.55 322.25,505.02 322.5,505.93 322.75,505.22 323,506.05 323.25,506.12 323.5,506.07 323.75,505.6 324,505.62 324.25,505.71 324.5,505.84 324.75,505.4 325,505.85 325.25,506.19 325.5,505.94 325.75,505.25 326,505.32 326.25,505.03 326.5,505.5 326.75,505.7 327,505.22 327.25,504.62 327.5,504.71 327.75,504.5 328,503.12 328.25,503.23 328.5,502.54 328.75,502.48 329,501.75 329.25,499.1 329.28,498.18 329.5,499.29 329.75,497.97 330,497.59 330.25,493.55 330.5,490.68 330.75,490.42 330.84,486.41 331,488.7 331.25,485.66 331.5,482.42 331.75,477.69 332,475.15 332.06,475.32 332.25,480.62 332.5,484.7 332.75,489.62 333,491.21 333.25,495.12 333.5,496.99 333.75,498.48 334,498.57 334.25,498.69 334.35,499.55 334.5,499.68 334.75,500.86 335,501.5 335.25,502.53 335.5,503.77 335.75,504.43 336,503.59 336.25,504.34 336.5,504.98 336.75,505.19 337,505.29 337.25,504.83 337.5,505.31 337.75,505.99 338,505.68 338.25,505.08 338.5,505.76 338.75,506.04 339,505.35 339.25,505.85 339.5,505.88 339.75,505.78 340,505.36 340.25,505.3 340.5,504.28 340.75,504.24 341,504.06 341.25,503.51 341.5,503.58 341.75,502.29 342,501.72 342.25,501.26 342.5,499.64 342.53,500.22 342.75,499.36 343,498.43 343.25,497.61 343.5,494.39 343.75,492.04 344,487.93 344.05,487.32 344.25,484.87 344.5,485.3 344.75,480.74 345,476.16 345.12,473.48 345.25,476.21 345.5,483.94 345.75,485.25 346,488.19 346.25,490.17 346.5,493.69 346.64,493.16 346.75,493.97 347,496.49 347.25,498.47 347.5,500.2 347.75,501.59 348,501.98 348.25,502.13 348.5,503.34 348.75,503.26 349,504.07 349.25,504.29 349.5,504.63 349.75,505.07 350,504.68 350.25,505.21 350.5,504.67 350.75,505.2 351,505.95 351.25,505.85 351.5,505.17 351.75,505.33 352,505 352.25,506.05 352.5,505.58 352.75,505.87 353,504.86 353.25,504.55 353.5,504.71 353.75,504.36 354,503.4 354.25,504.06 354.5,503.75 354.75,501.56 355,500.67 355.25,500.33 355.5,499.66 355.66,499.01 355.75,497.13 356,496.21 356.25,492.98 356.5,490.06 356.75,484.24 357,481.48 357.25,474.49 357.25,470.86 357.5,470.42 357.75,465.47 358,461.23 358.25,447.02 358.32,442.99 358.5,447.71 358.75,468.05 359,471.43 359.25,476.54 359.5,476.73 359.75,478.97 360,469.78 360.07,470.55 360.25,479.76 360.5,484.57 360.75,489.85 361,495.07 361.25,497.68 361.5,499.69 361.75,500.77 362,502.47 362.25,502.33 362.5,503.42 362.75,504.15 363,504.95 363.25,504.34 363.5,505.62" fill="none" stroke="#3a7fd6" stroke-width="1.3" stroke-linejoin="round"/>
<polyline points="27.5,505.94 27.75,506.26 28,506.12 28.25,506.02 28.5,506.09 28.75,505.95 29,506.46 29.25,505.68 29.5,505.53 29.75,506.5 30,505.67 30.25,505.8 30.5,505.04 30.75,505.15 31,504.55 31.25,504.84 31.5,503.97 31.75,503.42 32,503.44 32.25,502.2 32.5,502.33 32.75,501.28 33,499.68 33.25,499.37 33.5,497.42 33.75,496.24 33.79,495.79 34,493.95 34.25,493.57 34.5,494.96 34.75,493.35 35,490.2 35.25,488.9 35.5,483.18 35.58,482.17 35.75,485.5 36,487.18 36.25,490.41 36.5,490.63 36.75,492.36 37,496.51 37.25,495.55 37.25,496.6 37.5,498.14 37.75,499.22 38,500.08 38.25,501.08 38.5,502.35 38.75,502.91 39,502.43 39.25,503.22 39.5,504.35 39.75,504.26 40,504.44 40.25,504.38 40.5,504.52 40.75,505.44 41,505.64 41.25,505.82 41.5,505.13 41.75,505.29 42,506.3 42.25,505.77 42.5,505.56 42.75,505.57 43,505.3 43.25,505.79 43.5,505.68 43.75,504.88 44,505.27 44.25,504.53 44.5,504.03 44.75,504.15 45,504.18 45.25,502.53 45.5,502.64 45.75,502.05 46,501.89 46.25,499.96 46.5,499.41 46.75,497.88 47,494.39 47.19,491.97 47.25,492.08 47.5,489.75 47.75,484.82 48,479 48.25,473.58 48.5,457.93 48.75,440.88 48.78,440.88 49,452.54 49.25,463.78 49.5,474.34 49.75,474.59 50,476.07 50.13,475.76 50.25,479.26 50.5,483.95 50.75,492.09 51,496.65 51.25,498.31 51.5,499.18 51.75,501.04 52,501.48 52.25,502.56 52.5,503.21 52.75,503.51 53,504.29 53.25,504.6 53.5,504.93 53.75,505.45 54,504.95 54.25,504.86 54.5,505.2 54.75,505.89 55,505.6 55.25,506.27 55.5,505.51 55.75,505.86 56,505.57 56.25,505.7 56.5,505.96 56.75,505.48 57,505.74 57.25,505.91 57.5,505.67 57.75,505.54 58,504.94 58.25,504.32 58.5,503.85 58.75,503.49 59,503.73 59.25,502.75 59.5,502.03 59.75,500.68 60,500.36 60.14,498.72 60.25,499.24 60.5,499.68 60.75,497.18 61,496.24 61.25,493.59 61.5,491.83 61.75,489.71 62,487.02 62.25,479.45 62.5,473.68 62.66,467.91 62.75,471.33 63,480.5 63.25,484.04 63.5,488.18 63.75,492.33 64,493.81 64.25,496.73 64.5,498.03 64.75,500.03 64.84,497.93 65,499.75 65.25,500.53 65.5,502.3 65.75,502.54 66,502.76 66.25,504.39 66.5,504.7 66.75,503.93 67,504.6 67.25,504.77 67.5,505.67 67.75,505.05 68,505.18 68.25,505.94 68.5,505.67 68.75,506.04 69,505.95 69.25,505.28 69.5,505.6 69.75,505.07 70,505.59 70.25,505.37 70.5,504.85 70.75,505.6 71,504.78 71.25,505.3 71.5,504.6 71.75,504.05 72,503.54 72.25,503.2 72.5,502.1 72.75,500.73 73,499.75 73.05,500.24 73.25,499.4 73.5,497.21 73.75,495.4 74,493.79 74.25,489.48 74.5,484.15 74.64,479.4 74.75,480.9 75,485.03 75.25,488.67 75.5,488.25 75.75,487.22 76,492.58 76.25,493.26 76.5,492.9 76.75,494.08 77,495.32 77.17,497.28 77.25,495.51 77.5,498.95 77.75,499.5 78,499.3 78.25,501.09 78.5,502.75 78.75,503.1 79,503.9 79.25,503.92 79.5,504.44 79.75,504.68 80,505.34 80.25,505.55 80.5,504.85 80.75,505.47 81,506.13 81.25,505.95 81.5,505.65 81.75,506.35 82,505.54 82.25,505.96 82.5,506.54 82.75,506.41 83,505.58 83.25,506.07 83.5,506.59 83.75,506.44 84,506.19 84.25,506.07 84.5,505.41 84.75,505.67 85,505.42 85.25,505.91 85.5,504.98 85.75,504.9 86,504.95 86.25,504.99 86.5,503.72 86.75,503.56 87,503.39 87.25,502.89 87.5,502.78 87.75,500.71 88,500.53 88.25,499.99 88.5,497.88 88.75,495.7 88.83,494.48 89,495.28 89.25,493.12 89.5,493.21 89.75,491.11 90,485.97 90.25,484.86 90.5,483.43 90.75,478.98 91,470.33 91.21,464.09 91.25,464.89 91.5,475.74 91.75,485.61 92,490.1 92.25,494.85 92.5,497.52 92.75,497.61 92.8,498.08 93,500.11 93.25,501.59 93.5,502.63 93.75,503.25 94,502.85 94.25,504.26 94.5,504.26 94.75,504.62 95,504.85 95.25,505.2 95.5,505.57 95.75,505.13 96,505.92 96.25,504.85 96.5,505.68 96.75,505.74 97,504.91 97.25,505.36 97.5,504.6 97.75,504.97 98,504.46 98.25,503.95 98.5,504.04 98.75,503.65 99,502.77 99.25,501.37 99.5,500.53 99.75,499.54 100,497.62 100.1,496.58 100.25,497.76 100.5,496.05 100.75,493.02 101,491.27 101.25,488.89 101.5,485.74 101.75,478.13 101.85,476.74 102,480.09 102.25,484.4 102.5,484.89 102.75,489.35 103,490.56 103.25,494.96 103.5,496.18 103.75,497.03 104,497.31 104.12,497.26 104.25,499.13 104.5,500.9 104.75,500.35 105,500.97 105.25,502.17 105.5,502.26 105.75,503.77 106,504.14 106.25,504.32 106.5,504.52 106.75,504.79 107,504.47 107.25,505.26 107.5,505.09 107.75,506.2 108,505.5 108.25,505.47 108.5,506.33 108.75,505.56 109,505.35 109.25,506.1 109.5,505.6 109.75,505.31 110,505.71 110.25,505.19 110.5,505.72 110.75,505.82 111,505.26 111.25,504.43 111.5,504.94 111.75,504.08 112,503.99 112.25,504.22 112.5,503.61 112.75,502.32 113,500.82 113.17,501.03 113.25,499.98 113.5,499.15 113.75,497.47 114,497.15 114.25,495.07 114.5,493.64 114.5,492.17 114.75,492.04 115,490.28 115.25,491.03 115.5,488.75 115.75,485.53 115.86,483.07 116,484.36 116.25,488.12 116.5,490.66 116.75,493.12 117,495.99 117.25,497.15 117.5,497.18 117.75,498.3 118,499.07 118.14,498.88 118.25,499.79 118.5,500.31 118.75,501.57 119,502.41 119.25,502.36 119.5,504.38 119.75,503.92 120,504.64 120.25,504.39 120.5,504.69 120.75,505.2 121,505.76 121.25,505.65 121.5,505.21 121.75,505.2 122,505.99 122.25,505.67 122.5,505.98 122.75,506.01 123,505.65 123.25,506.03 123.5,505.27 123.75,505.52 124,505.55 124.25,505.21 124.5,505.82 124.75,504.69 125,504.64 125.25,504.39 125.5,504.43 125.75,503.4 126,502.84 126.25,502.16 126.5,501.45 126.57,500.46 126.75,499.96 127,499.61 127.25,499.63 127.5,497.86 127.75,496.95 128,494.27 128.25,494.29 128.5,490.89 128.53,489.62 128.75,491.24 129,491.17 129.25,492.64 129.5,491.44 129.75,492.84 129.95,492.83 130,494.39 130.25,496.19 130.5,496.29 130.75,498.44 131,499.87 131.25,500.56 131.5,499.73 131.72,500.07 131.75,500.07 132,502.17 132.25,502.04 132.5,503.11 132.75,503.48 133,504.1 133.25,505.24 133.5,505.05 133.75,505.3 134,505.43 134.25,505.26 134.5,506.02 134.75,506.07 135,505.5 135.25,506.05 135.5,505.85 135.75,505.25 136,506.3 136.25,505.3 136.5,505.97 136.75,506.16 137,505.03 137.25,505.53 137.5,505.02 137.75,504.99 138,504.33 138.25,504.67 138.5,503.34 138.75,503.47 139,503.46 139.25,502.47 139.5,501.56 139.75,499.95 140,497.84 140.25,496.71 140.42,495.02 140.5,494.67 140.75,493.33 141,490.09 141.25,485.3 141.5,483.45 141.75,475.28 142,465.56 142,466.76 142.25,472.06 142.5,475.98 142.75,482.81 143,481.94 143.25,486.16 143.47,485.38 143.5,489.24 143.75,489.82 144,493.23 144.25,496.02 144.5,496.52 144.75,498.01 144.91,497.61 145,497.64 145.25,500 145.5,501.47 145.75,501.9 146,502.31 146.25,503.63 146.5,504.56 146.75,504.16 147,504.64 147.25,504.36 147.5,504.83 147.75,505.33 148,505.88 148.25,505.64 148.5,505.96 148.75,506.05 149,505.65 149.25,506.41 149.5,505.93 149.75,505.64 150,506.17 150.25,505.72 150.5,505.55 150.75,506.2 151,505.35 151.25,505.25 151.5,505.96 151.75,505.3 152,505.47 152.25,504.87 152.5,505.18 152.75,504.82 153,504.13 153.25,503.87 153.5,502.94 153.75,501.33 154,501.27 154.03,500.72 154.25,500.91 154.5,500.14 154.75,498.68 155,497.86 155.25,497.48 155.5,495.05 155.75,492.7 156,490.37 156.25,486.98 156.27,486.67 156.5,488.71 156.75,488.18 157,489.29 157.25,492.37 157.5,494.71 157.73,493.58 157.75,493.23 158,496.13 158.25,496.79 158.5,498.34 158.75,499.79 159,500.25 159.21,501.01 159.25,501.22 159.5,502.32 159.75,503.17 160,504.21 160.25,503.87 160.5,504.38 160.75,504.34 161,505.21 161.25,504.8 161.5,505.03 161.75,505.84 162,505.44 162.25,505.38 162.5,505.34 162.75,506.26 163,505.47 163.25,505.38 163.5,506.53 163.75,505.47 164,505.8 164.25,505.96 164.5,506.13 164.75,505.96 165,505.65 165.25,505.5 165.5,505.43 165.75,505.39 166,504.13 166.25,504.49 166.5,503.4 166.75,503.81 167,502.85 167.25,502.71 167.5,501.19 167.75,500.79 168,499.41 168.25,499.6 168.5,496.8 168.75,494.78 168.93,494.91 169,493.77 169.25,490.95 169.5,490.84 169.75,486.6 170,481.59 170.25,476.56 170.28,475.57 170.5,478.83 170.75,484.95 171,490.23 171.25,493.69 171.5,494.24 171.75,497.06 172,496.76 172.25,498.71 172.47,499.63 172.5,499.36 172.75,499.99 173,501.17 173.25,501.44 173.5,502.77 173.75,503.08 174,503.69 174.25,504.11 174.5,504.73 174.75,505.55 175,505.34 175.25,505.14 175.5,505.36 175.75,505.56 176,505.85 176.25,506.1 176.5,505.88 176.75,505.4 177,506.26 177.25,505.41 177.5,505.96 177.75,505.52 178,505.94 178.25,505.45 178.5,505.36 178.75,504.86 179,504.78 179.25,505.16 179.5,504.53 179.75,504.26 180,504.23 180.25,503.78 180.5,503.55 180.75,501.43 181,501.95 181.25,499.56 181.45,499.96 181.5,499.63 181.75,499.81 182,499.26 182.25,497.37 182.5,496.05 182.75,495.3 183,495.44 183.25,494.55 183.5,492.08 183.75,489.27 183.75,488.82 184,490.5 184.25,492.96 184.5,495.61 184.75,495.59 185,495.59 185.12,493.99 185.25,495.47 185.5,497.69 185.75,500.23 186,500.5 186.25,501.25 186.5,502.22 186.75,502.95 187,503.45 187.25,503.48 187.5,504.17 187.75,504.02 188,504.47 188.25,505.23 188.5,505.49 188.75,505.25 189,505.56 189.25,506.21 189.5,505.39 189.75,505.18 190,506.38 190.25,505.5 190.5,505.86 190.75,505.66 191,506.16 191.25,505.16 191.5,505.77 191.75,505.88 192,505.23 192.25,504.99 192.5,504.81 192.75,504.98 193,504.35 193.25,503.81 193.5,503.88 193.75,503.07 194,502.42 194.25,502.53 194.5,499.55 194.75,499.51 195,497 195.06,497.02 195.25,497.94 195.5,496.67 195.75,495.89 196,492.4 196.25,489.6 196.5,490.37 196.75,483.2 197,479.05 197.25,469.53 197.5,458.31 197.63,453.05 197.75,461.27 198,470.74 198.25,480.33 198.5,486.7 198.75,489.26 198.93,492.19 199,493.78 199.25,496.17 199.5,498.78 199.75,500.3 200,501.56 200.25,501.96 200.5,502.39 200.75,503.67 201,503.79 201.25,504.47 201.5,505.12 201.75,504.95 202,505.57 202.25,505.04 202.5,505.21 202.75,505.66 203,505.51 203.25,506.02 203.5,505.88 203.75,505.62 204,505.65 204.25,506.47 204.5,505.92 204.75,505.78 205,506.55 205.25,506.49 205.5,506.05 205.75,506.19 206,506.03 206.25,505.84 206.5,505.98 206.75,505.4 207,505.23 207.25,504.99 207.5,504.92 207.75,504 208,503.79 208.25,503.5 208.5,502.02 208.75,501.6 208.84,501.52 209,500 209.25,499.44 209.5,499.12 209.75,499.04 210,497.1 210.25,494.01 210.5,491.46 210.51,491.31 210.75,492.02 211,489.53 211.25,489.02 211.5,485.29 211.75,484.83 212,481.62 212.17,475.59 212.25,479 212.5,484.53 212.75,489.31 213,494.32 213.25,497.3 213.5,497.18 213.61,498.14 213.75,498.45 214,500.4 214.25,502.21 214.5,501.96 214.75,502.86 215,502.93 215.25,503.94 215.5,504.09 215.75,504.38 216,504.65 216.25,505.75 216.5,505.76 216.75,505.41 217,505.03 217.25,506.29 217.5,505.36 217.75,505.41 218,505.8 218.25,505.83 218.5,505.51 218.75,505.76 219,505.98 219.25,505.61 219.5,505.13 219.75,504.99 220,504.32 220.25,505.03 220.5,504.82 220.75,503.95 221,503.59 221.25,503.13 221.5,502.75 221.75,500.9 221.76,501.74 222,501.15 222.25,500.09 222.5,498.32 222.75,498.56 223,497.36 223.13,494.25 223.25,495.57 223.5,495.93 223.75,491.5 224,490.53 224.25,488.23 224.5,490.97 224.75,488.27 225,483.52 225.1,483.07 225.25,486.91 225.5,490.75 225.75,494.13 226,495.16 226.25,498.31 226.5,498.52 226.75,499.03 226.85,498.46 227,500.88 227.25,500.8 227.5,502.94 227.75,503.68 228,504.37 228.25,503.71 228.5,504.98 228.75,504.52 229,505.13 229.25,505.56 229.5,505.83 229.75,505.71 230,504.98 230.25,506.13 230.5,506.05 230.75,506.38 231,505.85 231.25,505.63 231.5,505.8 231.75,505.2 232,504.97 232.25,505.37 232.5,505.41 232.75,505.02 233,504.56 233.25,504.25 233.5,504.18 233.75,503.28 234,503.13 234.25,502.84 234.5,500.89 234.75,500.24 234.97,498.87 235,500.64 235.25,498.98 235.5,499.82 235.75,497.34 236,497 236.25,497.58 236.5,493.74 236.75,494.65 237,493.07 237.25,492.66 237.36,493.17 237.5,494.16 237.75,495.71 238,496.6 238.25,497.72 238.5,498.7 238.75,499.05 239,499.25 239.06,499.79 239.25,501.35 239.5,500.98 239.75,502.7 240,502.31 240.25,503.26 240.5,504.1 240.75,504.76 241,504.29 241.25,504.81 241.5,505.09 241.75,505.44 242,505.81 242.25,505.06 242.5,505.21 242.75,505.45 243,505.64 243.25,506.28 243.5,505.62 243.75,506.29 244,506.26 244.25,505.98 244.5,505.51 244.75,505.27 245,505.55 245.25,505.91 245.5,505.19 245.75,505.3 246,504.38 246.25,503.72 246.5,504.44 246.75,503.97 247,502.81 247.25,503.18 247.5,501.85 247.75,501.58 248,500.18 248.13,498.95 248.25,499.13 248.5,499.18 248.75,497.38 249,498.05 249.25,495.47 249.5,494.89 249.75,495.83 249.75,493.43 250,493.43 250.25,495.29 250.5,493.43 250.75,494.97 251,495.6 251.22,494.85 251.25,494.33 251.5,495.73 251.75,499.72 252,499.41 252.25,500.26 252.5,500.22 252.56,500.51 252.75,500.79 253,502.35 253.25,502.27 253.5,503.84 253.75,504.59 254,504.41 254.25,505.26 254.5,505.45 254.75,505.81 255,505.35 255.25,505.61 255.5,506.05 255.75,505.94 256,505.81 256.25,505.86 256.5,505.83 256.75,506.18 257,506.57 257.25,506.59 257.5,505.59 257.75,506.13 258,506.12 258.25,505.99 258.5,506.05 258.75,505.88 259,505.22 259.25,505.84 259.5,505.2 259.75,505.63 260,505.12 260.25,504.68 260.5,504.22 260.75,504.46 261,503.91 261.25,503.24 261.5,502.15 261.75,501.89 262,500.92 262.17,499.4 262.25,499.46 262.5,498.98 262.75,498.76 263,497.46 263.25,495.6 263.5,493.62 263.75,491.26 264,492.59 264.25,487.59 264.3,486.94 264.5,489.3 264.75,490.88 265,493.81 265.25,494.83 265.5,495.35 265.75,499.51 266,499.11 266.25,499.28 266.5,498.7 266.6,499.68 266.75,500.68 267,501.13 267.25,502.69 267.5,503.94 267.75,503.83 268,504.19 268.25,505.15 268.5,505.12 268.75,504.53 269,504.85 269.25,505.23 269.5,505.32 269.75,505.77 270,505.84 270.25,505.81 270.5,505.77 270.75,505.98 271,505.21 271.25,505.94 271.5,505.45 271.75,505.59 272,504.59 272.25,505.57 272.5,504.45 272.75,504.38 273,503.73 273.25,503.15 273.5,503.14 273.75,502.52 274,500.69 274.25,501.06 274.5,497.66 274.66,497.01 274.75,496.5 275,494.77 275.25,492.33 275.5,489.41 275.75,484.05 276,475.85 276.25,467.17 276.43,455.19 276.5,459.68 276.75,468.71 277,477.98 277.25,482.72 277.5,484.08 277.75,489.53 278,490.81 278.25,493.14 278.5,495.87 278.75,496.95 278.95,497.64 279,496.1 279.25,499.54 279.5,499.83 279.75,501.38 280,502.35 280.25,503 280.5,502.81 280.75,504.24 281,505.15 281.25,504.24 281.5,504.29 281.75,504.49 282,505.85 282.25,505.25 282.5,505.74 282.75,505.37 283,505.85 283.25,505.58 283.5,505.55 283.75,505.91 284,505.69 284.25,505.36 284.5,505.84 284.75,505.98 285,506.29 285.25,505.9 285.5,505.53 285.75,505.13 286,504.85 286.25,504.66 286.5,504.37 286.75,504.13 287,504.03 287.25,503.61 287.5,502.72 287.75,501.32 288,500.83 288.11,500.82 288.25,501.2 288.5,499.57 288.75,497.73 289,496.11 289.25,494.34 289.5,493.38 289.75,488.72 290,485.69 290.17,484.2 290.25,485.58 290.5,484.25 290.75,485.36 291,487.59 291.25,490.23 291.5,493.3 291.75,493.88 292,496.83 292.25,498.51 292.5,496.8 292.75,497.05 292.87,498.35 293,498.38 293.25,499.86 293.5,500.46 293.75,502.02 294,503.08 294.25,503.72 294.5,504.58 294.75,504.42 295,504.58 295.25,504.37 295.5,505.85 295.75,504.99 296,505.43 296.25,506 296.5,505.98 296.75,505.67 297,506.31 297.25,506.23 297.5,506.39 297.75,506.22 298,506.33 298.25,505.96 298.5,505.97 298.75,505.36 299,505.93 299.25,505.26 299.5,505.78 299.75,505.14 300,505.44 300.25,504.29 300.5,504.68 300.75,504.28 301,503.5 301.25,502.6 301.5,502.64 301.75,502.63 302,500.22 302.06,499.26 302.25,500.72 302.5,497.92 302.75,497.04 303,494.58 303.25,492.84 303.45,490.7 303.5,489.66 303.75,486.92 304,482.48 304.25,477.25 304.5,462.48 304.75,453.51 304.85,447.62 305,452.56 305.25,472.09 305.5,480.24 305.75,485.33 306,489.96 306.25,494.04 306.5,494.9 306.75,497.18 306.92,498.43 307,498.97 307.25,499.91 307.5,501.12 307.75,501.66 308,502.85 308.25,502.91 308.5,504.32 308.75,504.12 309,504.46 309.25,504.72 309.5,505.49 309.75,505.03 310,505.09 310.25,505.77 310.5,505.27 310.75,505.17 311,505.24 311.25,505.47 311.5,506.34 311.75,505.65 312,505.9 312.25,505.26 312.5,505.6 312.75,505.99 313,505.37 313.25,504.42 313.5,505.26 313.75,504.18 314,503.26 314.25,503.46 314.5,503.2 314.75,502.55 315,501.53 315.25,500.49 315.4,498.4 315.5,499.46 315.75,497.95 316,496.02 316.25,494.38 316.5,491.66 316.75,490.67 317,483.96 317.25,474.73 317.5,467.14 317.51,466.14 317.75,473.78 318,476.93 318.25,485.08 318.5,486.36 318.75,490.26 318.81,491.1 319,490.46 319.25,495 319.5,496.49 319.75,498.61 320,498.26 320.25,499.19 320.5,499.74 320.53,500.66 320.75,500.69 321,502.36 321.25,502.94 321.5,503.28 321.75,504.75 322,504.36 322.25,504.41 322.5,504.97 322.75,505.32 323,505.77 323.25,505.75 323.5,505.81 323.75,505.52 324,506 324.25,506.38 324.5,505.69 324.75,505.36 325,506.3 325.25,506.37 325.5,506.04 325.75,505.42 326,506.26 326.25,505.77 326.5,505.16 326.75,504.9 327,505.4 327.25,504.71 327.5,505.31 327.75,504.77 328,504.95 328.25,504.49 328.5,503.12 328.75,501.83 329,501.94 329.23,500.5 329.25,500.7 329.5,499.12 329.75,498.83 330,497.63 330.25,496.95 330.5,495.85 330.62,492.51 330.75,493.26 331,493.46 331.25,490.06 331.5,489.06 331.75,488.8 331.92,484.99 332,485.99 332.25,488.94 332.5,491.16 332.75,494.06 333,494.55 333.25,497.36 333.5,496.9 333.75,499.63 334,499.87 334.25,500.27 334.5,500.35 334.5,499.54 334.75,501.95 335,502.46 335.25,503.87 335.5,503.82 335.75,504.04 336,503.93 336.25,505.21 336.5,504.97 336.75,504.7 337,505.58 337.25,505.72 337.5,506.21 337.75,505.97 338,505.78 338.25,505.38 338.5,505.95 338.75,506.29 339,506.08 339.25,505.27 339.5,505.19 339.75,506.1 340,506.07 340.25,505.69 340.5,505.25 340.75,504.72 341,505.31 341.25,504.17 341.5,504.17 341.75,504.45 342,504.07 342.25,503.02 342.5,501.48 342.75,502.1 343,501.73 343.25,499.55 343.5,499.45 343.75,496.07 343.97,493.46 344,493.85 344.25,494.47 344.5,491.88 344.75,491.47 345,489.45 345.25,485.71 345.39,484.99 345.5,486.11 345.75,488.46 346,490.93 346.25,493.72 346.5,495.32 346.75,495.71 347,497.03 347.25,497.71 347.5,499.15 347.64,499.89 347.75,498.99 348,500.57 348.25,502.68 348.5,502.64 348.75,502.62 349,504.1 349.25,503.78 349.5,504.23 349.75,505.29 350,504.99 350.25,505.29 350.5,504.79 350.75,506.11 351,505.59 351.25,506.05 351.5,506.26 351.75,505.83 352,506.09 352.25,505.33 352.5,505.43 352.75,505.55 353,505.32 353.25,504.87 353.5,505.32 353.75,504.45 354,504.83 354.25,504.56 354.5,503.95 354.75,503.38 355,503.01 355.25,502.52 355.5,501.41 355.75,500.76 356,499.99 356.25,499.63 356.5,497.94 356.75,494.42 357,492.99 357.16,491.75 357.25,489.91 357.5,491.13 357.75,486.22 358,481.81 358.25,480.37 358.5,474.35 358.75,462.82 358.86,462.27 359,467.91 359.25,476.63 359.5,483.45 359.75,486.58 360,490.76 360.25,493.43 360.5,495.46 360.51,494.33 360.75,497.52 361,498.94 361.25,498.78 361.5,501.07 361.75,501.32 362,502.98 362.25,503.09 362.5,503.4 362.75,504.57 363,505.05 363.25,505.38 363.5,505.29" fill="none" stroke="#5cb84a" stroke-width="1.15" stroke-linejoin="round" stroke-dasharray="1 0.7"/>
<line x1="68" y1="422.5" x2="83.2" y2="422.5" stroke="#4a8ee0" stroke-width="0.9" />
<line x1="68" y1="431.6" x2="83.2" y2="431.6" stroke="#8fd08a" stroke-width="1" stroke-dasharray="0.8 0.6"/>
<text x="84.8" y="424.44" font-size="5.4" text-anchor="start" font-family="'Liberation Sans', Arial, sans-serif" fill="#2b2b2b" stroke="#2b2b2b" stroke-width="0.24" textLength="9.1" lengthAdjust="spacingAndGlyphs" >Obs</text>
<text x="84.8" y="433.54" font-size="5.4" text-anchor="start" font-family="'Liberation Sans', Arial, sans-serif" fill="#2b2b2b" stroke="#2b2b2b" stroke-width="0.24" textLength="9.1" lengthAdjust="spacingAndGlyphs" >Sim</text>
</svg>
</body></html>
